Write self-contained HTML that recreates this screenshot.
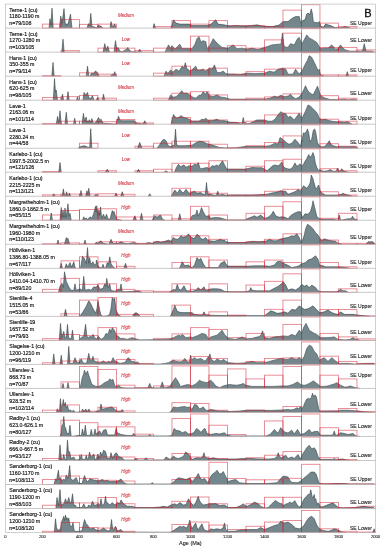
<!DOCTYPE html><html><head><meta charset="utf-8"><title>Detrital zircon age spectra</title><style>html,body{margin:0;padding:0;background:#fff;}svg{display:block;}.l{font-family:"Liberation Sans",sans-serif;font-size:6.05px;fill:#151515;stroke:#151515;stroke-width:0.18px;}.r{font-family:"Liberation Sans",sans-serif;font-size:4.5px;fill:#d3303a;stroke:#d3303a;stroke-width:0.08px;font-style:italic;}.s{font-family:"Liberation Sans",sans-serif;font-size:5.8px;fill:#1a1a1a;stroke:#1a1a1a;stroke-width:0.12px;}.t{font-family:"Liberation Sans",sans-serif;font-size:4.1px;fill:#222;stroke:#222;stroke-width:0.08px;}</style></head><body><svg width="384" height="550" viewBox="0 0 384 550"><rect width="384" height="550" fill="#fff"/><g><path d="M49 28.12L49 28.12L50 18.62L51 25.12L52 8.12L53.2 28.12L59.5 28.12L60.75 16.12L62 23.12L64 8.62L65.3 24.12L68 24.12L70.5 14.12L72 28.12L87 28.12L88.4 23.62L89.6 26.12L90.8 13.42L92 26.62L95 27.12L96.5 28.12L98 25.62L101 26.12L103 28.12L110 28.12L111 21.62L112.5 27.12L114.75 24.12L116 28.12L153 28.12L154 23.62L155.5 28.12L171 28.12L173.5 19.87L176 23.12L180 24.12L190 24.12L192 25.62L199 25.62L207 25.62L211 24.12L215.75 19.87L218 24.12L224 24.87L230 26.12L236 25.62L246 26.12L257 24.87L262 26.12L272 26.62L279 25.12L283 21.62L288 21.62L291.75 18.62L295.5 16.62L299.25 16.62L300.8 23.12L302.5 20.62L305 19.82L306.7 13.92L308.3 13.12L309.7 14.82L311.3 8.92L312.5 14.12L313.3 21.92L316 22.62L318 22.82L319.2 21.52L321 26.42L323.5 27.12L325.5 24.12L330.5 25.62L335 27.62L340 27.82L345.5 26.62L350 28.12L350 28.12Z" fill="#74878d"/><path d="M49 28.12L50 18.62L51 25.12L52 8.12L53.2 28.12M59.5 28.12L60.75 16.12L62 23.12L64 8.62L65.3 24.12L68 24.12L70.5 14.12L72 28.12M87 28.12L88.4 23.62L89.6 26.12L90.8 13.42L92 26.62L95 27.12L96.5 28.12L98 25.62L101 26.12L103 28.12M110 28.12L111 21.62L112.5 27.12L114.75 24.12L116 28.12M153 28.12L154 23.62L155.5 28.12M171 28.12L173.5 19.87L176 23.12L180 24.12L190 24.12L192 25.62L199 25.62L207 25.62L211 24.12L215.75 19.87L218 24.12L224 24.87L230 26.12L236 25.62L246 26.12L257 24.87L262 26.12L272 26.62L279 25.12L283 21.62L288 21.62L291.75 18.62L295.5 16.62L299.25 16.62L300.8 23.12L302.5 20.62L305 19.82L306.7 13.92L308.3 13.12L309.7 14.82L311.3 8.92L312.5 14.12L313.3 21.92L316 22.62L318 22.82L319.2 21.52L321 26.42L323.5 27.12L325.5 24.12L330.5 25.62L335 27.62L340 27.82L345.5 26.62L350 28.12" fill="none" stroke="#2e383c" stroke-width="0.55" stroke-linejoin="round"/><path d="M61.8 52.14L61.8 52.14L63 39.14L64.2 52.14L103 52.14L104.75 43.64L106.3 50.14L107.75 46.14L109.5 52.14L114 52.14L115.5 40.64L116.8 49.14L118 47.39L120 51.14L122 51.64L124 50.64L125.5 49.64L126.8 49.14L127.8 47.44L128.8 49.64L130 50.14L131 51.64L138 52.14L139.75 49.14L141.5 52.14L165 52.14L168.5 44.89L170.3 48.14L172 45.64L175 49.14L179.75 44.14L182 48.64L185 48.64L190 48.64L192 48.64L195 44.14L197 38.64L199 36.64L201 42.14L203 40.64L205.75 41.64L207 48.64L210 45.14L213.25 38.64L216 42.14L222 47.39L228 48.14L233.25 44.89L237 48.64L242 48.14L247 49.14L252 48.14L258 49.64L262 48.14L267 46.64L272 44.89L278.25 44.14L281 44.14L282.5 33.14L284 46.14L286 47.14L288 47.39L290.5 43.64L294.25 44.89L297.5 38.64L299.25 37.39L301.75 44.14L304 40.14L306.75 34.89L308.5 37.14L310.5 38.64L313 39.89L316.75 42.39L320.5 48.64L324.25 48.14L328 48.14L331.75 44.89L335.5 49.14L338 48.64L340.5 44.89L343 48.14L345.5 49.89L350 51.14L356 51.14L362.5 51.14L364.25 43.64L366 51.14L372 51.14L374 52.14L374 52.14Z" fill="#74878d"/><path d="M61.8 52.14L63 39.14L64.2 52.14M103 52.14L104.75 43.64L106.3 50.14L107.75 46.14L109.5 52.14M114 52.14L115.5 40.64L116.8 49.14L118 47.39L120 51.14L122 51.64L124 50.64L125.5 49.64L126.8 49.14L127.8 47.44L128.8 49.64L130 50.14L131 51.64L138 52.14L139.75 49.14L141.5 52.14M165 52.14L168.5 44.89L170.3 48.14L172 45.64L175 49.14L179.75 44.14L182 48.64L185 48.64L190 48.64L192 48.64L195 44.14L197 38.64L199 36.64L201 42.14L203 40.64L205.75 41.64L207 48.64L210 45.14L213.25 38.64L216 42.14L222 47.39L228 48.14L233.25 44.89L237 48.64L242 48.14L247 49.14L252 48.14L258 49.64L262 48.14L267 46.64L272 44.89L278.25 44.14L281 44.14L282.5 33.14L284 46.14L286 47.14L288 47.39L290.5 43.64L294.25 44.89L297.5 38.64L299.25 37.39L301.75 44.14L304 40.14L306.75 34.89L308.5 37.14L310.5 38.64L313 39.89L316.75 42.39L320.5 48.64L324.25 48.14L328 48.14L331.75 44.89L335.5 49.14L338 48.64L340.5 44.89L343 48.14L345.5 49.89L350 51.14L356 51.14L362.5 51.14L364.25 43.64L366 51.14L372 51.14L374 52.14" fill="none" stroke="#2e383c" stroke-width="0.55" stroke-linejoin="round"/><path d="M51.8 76.16L51.8 76.16L53 62.41L54.2 76.16L86.2 76.16L87.5 66.16L88.8 76.16L90 76.16L91.5 73.16L93.5 73.66L95.5 70.86L97 72.41L98.3 75.16L99.5 76.16L110.5 76.16L112.25 74.16L113.5 75.16L114.75 71.66L116.3 76.16L164 76.16L166 71.16L168 73.66L170.5 69.91L173 72.16L176 69.16L179 71.16L182.25 66.16L184 68.16L185.25 62.66L187 69.16L188 69.16L190 71.16L192 70.16L193.5 68.16L195.75 66.16L197.5 70.16L200 70.16L203.25 69.16L205.5 71.16L209.5 68.16L212 69.16L214.5 64.91L217 72.41L220 72.66L223.25 71.16L226 73.66L229.5 74.16L234.5 74.16L240 74.66L247 73.16L255 73.66L264.5 73.16L269.5 71.16L274 72.16L278.25 69.16L282.5 68.16L285.75 69.16L288 74.16L293 74.16L295.5 69.16L297.5 72.16L299.25 73.66L302 71.16L305.5 63.66L307.5 60.16L309.25 55.66L311.75 57.41L313 59.91L315.5 64.91L318 70.66L319.25 69.16L320.5 74.91L324 76.16L346 76.16L347.25 71.66L348.5 76.16L348.5 76.16Z" fill="#74878d"/><path d="M51.8 76.16L53 62.41L54.2 76.16M86.2 76.16L87.5 66.16L88.8 76.16M90 76.16L91.5 73.16L93.5 73.66L95.5 70.86L97 72.41L98.3 75.16L99.5 76.16M110.5 76.16L112.25 74.16L113.5 75.16L114.75 71.66L116.3 76.16M164 76.16L166 71.16L168 73.66L170.5 69.91L173 72.16L176 69.16L179 71.16L182.25 66.16L184 68.16L185.25 62.66L187 69.16L188 69.16L190 71.16L192 70.16L193.5 68.16L195.75 66.16L197.5 70.16L200 70.16L203.25 69.16L205.5 71.16L209.5 68.16L212 69.16L214.5 64.91L217 72.41L220 72.66L223.25 71.16L226 73.66L229.5 74.16L234.5 74.16L240 74.66L247 73.16L255 73.66L264.5 73.16L269.5 71.16L274 72.16L278.25 69.16L282.5 68.16L285.75 69.16L288 74.16L293 74.16L295.5 69.16L297.5 72.16L299.25 73.66L302 71.16L305.5 63.66L307.5 60.16L309.25 55.66L311.75 57.41L313 59.91L315.5 64.91L318 70.66L319.25 69.16L320.5 74.91L324 76.16M346 76.16L347.25 71.66L348.5 76.16" fill="none" stroke="#2e383c" stroke-width="0.55" stroke-linejoin="round"/><path d="M53.3 100.18L53.3 100.18L54.5 78.68L55.5 92.18L56.25 90.18L57.5 100.18L61.3 100.18L62.5 94.18L63.7 100.18L66.8 100.18L68 91.68L69.2 100.18L76.5 100.18L77.5 96.68L78.5 100.18L83 100.18L84 92.43L85.7 95.18L87.5 92.43L89 98.18L91 98.18L92.5 95.68L94 100.18L96 100.18L97.5 97.43L99 100.18L102.3 100.18L103.5 94.18L104.7 100.18L168.5 100.18L170.5 94.93L173 97.18L176 96.68L179 94.18L181.75 90.68L183.5 93.18L184.5 93.18L187 93.18L190 95.18L193.25 97.43L196 98.18L199 95.18L201 95.18L203.25 91.68L205.5 94.18L207 91.68L209.5 95.68L213 96.68L217 94.93L221 97.18L224.5 97.43L230 99.18L242 99.18L264 99.18L270 98.18L274.5 96.18L277.5 97.18L280.75 95.18L284 96.68L287 96.18L288 96.18L290.5 94.18L293 97.18L295.5 98.68L299 97.18L301.75 93.68L303.5 90.18L305.5 85.68L307.5 90.18L309.25 92.43L313 94.93L315.5 90.18L317.5 86.18L319.5 92.18L320.5 94.93L323 97.18L325.5 98.18L330 99.48L340 99.68L344.25 99.18L348 99.88L354.25 99.18L357 100.18L357 100.18Z" fill="#74878d"/><path d="M53.3 100.18L54.5 78.68L55.5 92.18L56.25 90.18L57.5 100.18M61.3 100.18L62.5 94.18L63.7 100.18M66.8 100.18L68 91.68L69.2 100.18M76.5 100.18L77.5 96.68L78.5 100.18M83 100.18L84 92.43L85.7 95.18L87.5 92.43L89 98.18L91 98.18L92.5 95.68L94 100.18M96 100.18L97.5 97.43L99 100.18M102.3 100.18L103.5 94.18L104.7 100.18M168.5 100.18L170.5 94.93L173 97.18L176 96.68L179 94.18L181.75 90.68L183.5 93.18L184.5 93.18L187 93.18L190 95.18L193.25 97.43L196 98.18L199 95.18L201 95.18L203.25 91.68L205.5 94.18L207 91.68L209.5 95.68L213 96.68L217 94.93L221 97.18L224.5 97.43L230 99.18L242 99.18L264 99.18L270 98.18L274.5 96.18L277.5 97.18L280.75 95.18L284 96.68L287 96.18L288 96.18L290.5 94.18L293 97.18L295.5 98.68L299 97.18L301.75 93.68L303.5 90.18L305.5 85.68L307.5 90.18L309.25 92.43L313 94.93L315.5 90.18L317.5 86.18L319.5 92.18L320.5 94.93L323 97.18L325.5 98.18L330 99.48L340 99.68L344.25 99.18L348 99.88L354.25 99.18L357 100.18" fill="none" stroke="#2e383c" stroke-width="0.55" stroke-linejoin="round"/><path d="M56.3 124.2L56.3 124.2L57.5 116.5L58.7 122.2L60 110.8L61.3 124.2L65 124.2L66.25 112.3L67.5 124.2L73.5 124.2L74.7 118.2L75.9 124.2L82 124.2L83.4 113.4L84.7 121.2L86.1 117L87.2 122.2L87.7 121.2L88.5 122.2L89.2 119.7L90.5 122.2L91.9 118.6L93.2 123.2L95 123.2L96.5 121.2L98.5 117.45L100 120.2L101 119.2L103 123.2L116 124.2L118.5 116.2L120 120.2L121 120.7L126 120.7L134 120.7L137 123.2L143 124.2L144.75 120.7L146.5 124.2L171 124.2L173.5 114.45L175.5 117.2L177 118.2L179 117.2L181 115.7L184 117.7L187 118.2L190 119.7L192 121.2L196 121.2L199 121.2L202 119.2L204 119.7L205.75 118.2L208 120.2L210.75 120.7L214 120.2L217 119.2L220 120.7L224.5 120.7L230 122.2L237 122.45L241.8 124.2L243.25 117.45L244.7 124.2L250 123.2L257 119.95L264.5 119.95L268 121.2L272 121.2L275 119.2L277 116.2L280.75 111.7L283 113.2L285.75 113.7L288 117.45L290.5 116.2L292.5 118.2L294.25 119.95L297 116.2L299.25 113.2L300.5 116.2L301.75 118.7L303.5 115.2L305.5 111.2L308 104.95L310.5 106.2L313 108.7L315.5 111.2L317.5 113.7L319.25 118.2L322 119.7L325.5 119.2L328 120.2L331.75 121.2L336 121.7L340.5 121.7L344 122.2L348 121.7L352 124.2L352 124.2Z" fill="#74878d"/><path d="M56.3 124.2L57.5 116.5L58.7 122.2L60 110.8L61.3 124.2M65 124.2L66.25 112.3L67.5 124.2M73.5 124.2L74.7 118.2L75.9 124.2M82 124.2L83.4 113.4L84.7 121.2L86.1 117L87.2 122.2L87.7 121.2L88.5 122.2L89.2 119.7L90.5 122.2L91.9 118.6L93.2 123.2L95 123.2L96.5 121.2L98.5 117.45L100 120.2L101 119.2L103 123.2L116 124.2L118.5 116.2L120 120.2L121 120.7L126 120.7L134 120.7L137 123.2L143 124.2L144.75 120.7L146.5 124.2M171 124.2L173.5 114.45L175.5 117.2L177 118.2L179 117.2L181 115.7L184 117.7L187 118.2L190 119.7L192 121.2L196 121.2L199 121.2L202 119.2L204 119.7L205.75 118.2L208 120.2L210.75 120.7L214 120.2L217 119.2L220 120.7L224.5 120.7L230 122.2L237 122.45L241.8 124.2L243.25 117.45L244.7 124.2L250 123.2L257 119.95L264.5 119.95L268 121.2L272 121.2L275 119.2L277 116.2L280.75 111.7L283 113.2L285.75 113.7L288 117.45L290.5 116.2L292.5 118.2L294.25 119.95L297 116.2L299.25 113.2L300.5 116.2L301.75 118.7L303.5 115.2L305.5 111.2L308 104.95L310.5 106.2L313 108.7L315.5 111.2L317.5 113.7L319.25 118.2L322 119.7L325.5 119.2L328 120.2L331.75 121.2L336 121.7L340.5 121.7L344 122.2L348 121.7L352 124.2" fill="none" stroke="#2e383c" stroke-width="0.55" stroke-linejoin="round"/><path d="M78 148.22L78 148.22L80 146.72L82 146.22L84 145.72L86 146.22L88 147.42L89.7 147.22L90.75 128.72L91.8 148.22L137.5 148.22L139.75 142.47L142 148.22L157 148.22L160 144.22L162 140.72L164 139.22L166 140.72L168 145.22L170 146.72L171 146.22L174.3 145.22L175.5 129.22L176.7 145.22L179 145.72L185 145.72L192 145.22L196 142.72L199.5 141.22L203 141.72L207 143.72L211 144.72L214.5 145.72L219.5 147.47L225 147.92L235 147.92L244.5 146.47L255 146.47L264.5 146.47L269.5 145.72L272 144.72L274.5 143.22L276.5 143.72L278.25 143.72L280 137.47L282.5 139.22L285 141.22L287 143.22L289 144.22L291.75 143.22L295 139.22L298 142.47L300.5 146.22L301.7 140.22L301.75 142.47L303.3 132.92L304.7 133.22L306.3 131.72L307.5 128.92L308.7 132.72L310 141.72L311.7 139.22L313.3 130.22L314.7 128.92L315.8 132.72L317.5 142.72L319.2 145.72L321 146.72L324.25 146.72L327 144.22L329.25 140.72L331 144.22L333 145.72L337 146.72L355.5 146.72L358 148.22L358 148.22Z" fill="#74878d"/><path d="M78 148.22L80 146.72L82 146.22L84 145.72L86 146.22L88 147.42L89.7 147.22L90.75 128.72L91.8 148.22M137.5 148.22L139.75 142.47L142 148.22M157 148.22L160 144.22L162 140.72L164 139.22L166 140.72L168 145.22L170 146.72L171 146.22L174.3 145.22L175.5 129.22L176.7 145.22L179 145.72L185 145.72L192 145.22L196 142.72L199.5 141.22L203 141.72L207 143.72L211 144.72L214.5 145.72L219.5 147.47L225 147.92L235 147.92L244.5 146.47L255 146.47L264.5 146.47L269.5 145.72L272 144.72L274.5 143.22L276.5 143.72L278.25 143.72L280 137.47L282.5 139.22L285 141.22L287 143.22L289 144.22L291.75 143.22L295 139.22L298 142.47L300.5 146.22L301.7 140.22L301.75 142.47L303.3 132.92L304.7 133.22L306.3 131.72L307.5 128.92L308.7 132.72L310 141.72L311.7 139.22L313.3 130.22L314.7 128.92L315.8 132.72L317.5 142.72L319.2 145.72L321 146.72L324.25 146.72L327 144.22L329.25 140.72L331 144.22L333 145.72L337 146.72L355.5 146.72L358 148.22" fill="none" stroke="#2e383c" stroke-width="0.55" stroke-linejoin="round"/><path d="M58.8 172.24L58.8 172.24L60 162.49L61.2 172.24L105.5 172.24L107.25 169.24L109 172.24L136.8 172.24L138.5 169.24L140.2 172.24L164 172.24L166 170.74L168 172.24L174.5 172.24L176.5 167.24L178.5 164.24L180.5 166.74L182.25 165.74L184 164.99L186 167.24L187.25 166.74L189 165.74L191 166.24L192 166.24L194.5 164.24L197 164.99L198.25 162.49L200 168.24L201.5 168.74L203.25 168.24L207 167.49L209.5 168.74L212 165.74L214.5 166.24L216.75 164.99L218.25 166.24L220 164.24L222.5 160.74L224.5 164.99L227 169.24L232 169.24L244.5 169.24L247 168.74L252 167.49L257 167.74L262 167.74L264.5 169.24L267 170.74L270 168.24L272 166.24L274.5 164.99L278.25 165.74L280 164.54L281.7 162.04L283 165.94L285 167.94L287.5 168.74L290 169.24L292.5 167.54L295 162.94L296.7 166.24L298.3 165.44L300 163.74L301.3 166.24L303.3 164.54L305 161.24L306.7 158.74L308.7 154.54L310 157.24L311.7 155.44L313 152.54L314.2 156.24L315.3 162.94L317 167.94L318.7 170.44L320.8 169.94L323.3 171.24L328 170.74L330 169.54L333.3 171.24L336 171.24L337.5 168.24L339.2 171.24L340.5 171.24L341.7 168.74L344 171.24L348 172.24L348 172.24Z" fill="#74878d"/><path d="M58.8 172.24L60 162.49L61.2 172.24M105.5 172.24L107.25 169.24L109 172.24M136.8 172.24L138.5 169.24L140.2 172.24M164 172.24L166 170.74L168 172.24M174.5 172.24L176.5 167.24L178.5 164.24L180.5 166.74L182.25 165.74L184 164.99L186 167.24L187.25 166.74L189 165.74L191 166.24L192 166.24L194.5 164.24L197 164.99L198.25 162.49L200 168.24L201.5 168.74L203.25 168.24L207 167.49L209.5 168.74L212 165.74L214.5 166.24L216.75 164.99L218.25 166.24L220 164.24L222.5 160.74L224.5 164.99L227 169.24L232 169.24L244.5 169.24L247 168.74L252 167.49L257 167.74L262 167.74L264.5 169.24L267 170.74L270 168.24L272 166.24L274.5 164.99L278.25 165.74L280 164.54L281.7 162.04L283 165.94L285 167.94L287.5 168.74L290 169.24L292.5 167.54L295 162.94L296.7 166.24L298.3 165.44L300 163.74L301.3 166.24L303.3 164.54L305 161.24L306.7 158.74L308.7 154.54L310 157.24L311.7 155.44L313 152.54L314.2 156.24L315.3 162.94L317 167.94L318.7 170.44L320.8 169.94L323.3 171.24L328 170.74L330 169.54L333.3 171.24L336 171.24L337.5 168.24L339.2 171.24L340.5 171.24L341.7 168.74L344 171.24L348 172.24" fill="none" stroke="#2e383c" stroke-width="0.55" stroke-linejoin="round"/><path d="M52.5 196.26L52.5 196.26L53.75 193.66L55 196.26L62.2 196.26L63.4 188.96L64.6 196.26L65.4 196.26L66.6 191.76L67.8 196.26L68.2 196.26L69.4 192.96L70.6 196.26L79.8 196.26L81 190.46L82.2 196.26L85.7 196.26L86.9 190.76L87.8 194.26L88.75 188.26L90 196.26L94 196.26L96 194.26L98 196.26L114.5 196.26L116 193.26L117.5 196.26L120.8 196.26L122.25 191.76L123.7 196.26L148.3 196.26L149.75 193.76L151.2 196.26L171 196.26L172.5 194.26L174.75 190.01L177.5 193.26L179.75 189.26L182.5 192.76L184 192.26L186 189.26L189 193.26L192 192.26L194.5 191.26L197 193.26L200.75 192.51L203 194.26L205.3 194.26L206.5 182.51L207.7 194.26L210.75 194.26L214 195.26L216.3 195.26L217.75 191.26L219.2 195.26L222 194.26L226 195.26L232 195.01L252 195.01L258 194.76L267 194.26L271 193.26L274.5 192.51L278 191.76L280.75 190.76L283 191.26L285.75 191.26L288 194.26L293 192.51L296 191.26L298 189.26L300.5 191.26L303.5 185.76L306.75 188.26L309.25 185.01L310.3 182.26L311.25 175.01L313 178.76L315.5 188.26L317 188.26L318.5 185.01L320.5 191.26L323 193.76L325.5 195.01L338 195.01L341.5 194.26L343 193.26L345 194.26L348 195.01L352 196.26L352 196.26Z" fill="#74878d"/><path d="M52.5 196.26L53.75 193.66L55 196.26M62.2 196.26L63.4 188.96L64.6 196.26M65.4 196.26L66.6 191.76L67.8 196.26M68.2 196.26L69.4 192.96L70.6 196.26M79.8 196.26L81 190.46L82.2 196.26M85.7 196.26L86.9 190.76L87.8 194.26L88.75 188.26L90 196.26M94 196.26L96 194.26L98 196.26M114.5 196.26L116 193.26L117.5 196.26M120.8 196.26L122.25 191.76L123.7 196.26M148.3 196.26L149.75 193.76L151.2 196.26M171 196.26L172.5 194.26L174.75 190.01L177.5 193.26L179.75 189.26L182.5 192.76L184 192.26L186 189.26L189 193.26L192 192.26L194.5 191.26L197 193.26L200.75 192.51L203 194.26L205.3 194.26L206.5 182.51L207.7 194.26L210.75 194.26L214 195.26L216.3 195.26L217.75 191.26L219.2 195.26L222 194.26L226 195.26L232 195.01L252 195.01L258 194.76L267 194.26L271 193.26L274.5 192.51L278 191.76L280.75 190.76L283 191.26L285.75 191.26L288 194.26L293 192.51L296 191.26L298 189.26L300.5 191.26L303.5 185.76L306.75 188.26L309.25 185.01L310.3 182.26L311.25 175.01L313 178.76L315.5 188.26L317 188.26L318.5 185.01L320.5 191.26L323 193.76L325.5 195.01L338 195.01L341.5 194.26L343 193.26L345 194.26L348 195.01L352 196.26" fill="none" stroke="#2e383c" stroke-width="0.55" stroke-linejoin="round"/><path d="M50 220.28L50 220.28L51.25 212.98L52.5 220.28L60 220.28L61.25 207.48L62.2 217.28L63 210.28L64 217.28L65 207.98L66.2 217.28L68 203.78L69 216.28L70 213.28L71.2 220.28L82.5 220.28L83.75 216.78L85 219.28L86.25 217.78L87.5 219.78L90 216.78L92 218.28L93.75 213.28L95.5 206.28L96.2 212.28L96.75 205.78L97.8 215.28L99 210.28L99.8 215.28L100.5 206.98L101.7 218.28L103.5 214.28L105 218.28L106.5 214.28L108 218.78L110 219.28L112.25 210.48L113 213.28L114 211.28L115.5 216.28L117 219.28L119 219.78L122 220.28L133 220.28L134.75 215.78L136.5 220.28L140 220.28L141.5 213.28L143 220.28L152 220.28L154.75 215.78L157 217.28L160.5 215.03L162.5 219.28L165 220.28L178.3 220.28L179.75 213.78L181.2 220.28L190 220.28L192 215.78L194.5 215.03L196 214.28L197 210.03L198.25 215.78L200 212.53L201.5 207.53L203.25 211.78L205.75 216.28L209 215.78L210.75 218.28L214.5 217.53L220 217.78L227 220.03L245 220.03L248 218.28L251 217.28L254.5 215.78L257 217.28L260.75 215.03L264.5 218.28L267 217.78L269.5 216.28L271.5 214.28L273.25 211.28L275.75 215.78L279 217.28L282 216.78L285 217.28L288 218.78L290.5 215.78L294.25 213.28L298 211.78L300.5 211.78L302.5 217.53L305 213.78L308 214.28L310.5 211.28L312 206.28L313 200.78L315 208.78L316.75 216.28L319.25 218.78L323 219.28L333 219.28L337.8 220.28L339.25 215.03L340.7 220.28L348 218.78L351 218.78L352.5 216.28L354 218.78L356 219.28L358 220.28L358 220.28Z" fill="#74878d"/><path d="M50 220.28L51.25 212.98L52.5 220.28M60 220.28L61.25 207.48L62.2 217.28L63 210.28L64 217.28L65 207.98L66.2 217.28L68 203.78L69 216.28L70 213.28L71.2 220.28M82.5 220.28L83.75 216.78L85 219.28L86.25 217.78L87.5 219.78L90 216.78L92 218.28L93.75 213.28L95.5 206.28L96.2 212.28L96.75 205.78L97.8 215.28L99 210.28L99.8 215.28L100.5 206.98L101.7 218.28L103.5 214.28L105 218.28L106.5 214.28L108 218.78L110 219.28L112.25 210.48L113 213.28L114 211.28L115.5 216.28L117 219.28L119 219.78L122 220.28M133 220.28L134.75 215.78L136.5 220.28M140 220.28L141.5 213.28L143 220.28M152 220.28L154.75 215.78L157 217.28L160.5 215.03L162.5 219.28L165 220.28M178.3 220.28L179.75 213.78L181.2 220.28M190 220.28L192 215.78L194.5 215.03L196 214.28L197 210.03L198.25 215.78L200 212.53L201.5 207.53L203.25 211.78L205.75 216.28L209 215.78L210.75 218.28L214.5 217.53L220 217.78L227 220.03L245 220.03L248 218.28L251 217.28L254.5 215.78L257 217.28L260.75 215.03L264.5 218.28L267 217.78L269.5 216.28L271.5 214.28L273.25 211.28L275.75 215.78L279 217.28L282 216.78L285 217.28L288 218.78L290.5 215.78L294.25 213.28L298 211.78L300.5 211.78L302.5 217.53L305 213.78L308 214.28L310.5 211.28L312 206.28L313 200.78L315 208.78L316.75 216.28L319.25 218.78L323 219.28L333 219.28L337.8 220.28L339.25 215.03L340.7 220.28L348 218.78L351 218.78L352.5 216.28L354 218.78L356 219.28L358 220.28" fill="none" stroke="#2e383c" stroke-width="0.55" stroke-linejoin="round"/><path d="M56.8 244.3L56.8 244.3L58 240.05L59.2 244.3L64.5 244.3L66.25 237.55L67 239.3L68 238.3L69.5 244.3L83.8 244.3L85 240.05L86.2 244.3L95 244.3L96 242.3L98 243.3L101 240.8L103 243.3L109 244.3L111 239.3L113 243.3L118 243.3L121 241.8L124 243.3L128 243.8L133.5 242.55L138 243.8L145 243.8L148.5 242.55L152 243.3L157 241.3L161 242.3L165 241.3L168.5 240.05L171 241.3L173.5 237.55L175 238.8L177.25 239.3L179 238.3L181 235.8L183 237.3L184.75 236.8L186.5 236.3L188.5 233.8L190 236.3L192 237.8L194.5 238.3L197 234.3L199.5 236.3L201 238.8L203.25 239.3L205.75 237.55L207.5 239.8L209.5 240.8L214.5 241.3L217.5 240.3L220.75 239.3L222.5 240.3L224.5 240.05L226 241.8L229.5 242.55L236 242.55L244.5 242.55L249 241.8L253.25 241.3L258.25 241.8L264.5 241.3L267 240.8L269.5 239.3L273 240.8L277 240.8L280 239.3L283.25 238.3L288 237.55L291.75 235.8L294 236.3L296.75 233.8L299.25 237.55L301 242.55L303 238.8L304.5 234.3L305.5 229.3L307.5 224.3L309 225.3L310.5 226.3L313 228.8L315.5 232.55L318 235.05L320.5 239.3L322 240.3L324.25 238.8L328 240.05L331 240.8L335.5 241.3L338 243.3L342 244.3L366 244.3L368 241.8L373 241.8L374.5 244.3L374.5 244.3Z" fill="#74878d"/><path d="M56.8 244.3L58 240.05L59.2 244.3M64.5 244.3L66.25 237.55L67 239.3L68 238.3L69.5 244.3M83.8 244.3L85 240.05L86.2 244.3M95 244.3L96 242.3L98 243.3L101 240.8L103 243.3L109 244.3L111 239.3L113 243.3L118 243.3L121 241.8L124 243.3L128 243.8L133.5 242.55L138 243.8L145 243.8L148.5 242.55L152 243.3L157 241.3L161 242.3L165 241.3L168.5 240.05L171 241.3L173.5 237.55L175 238.8L177.25 239.3L179 238.3L181 235.8L183 237.3L184.75 236.8L186.5 236.3L188.5 233.8L190 236.3L192 237.8L194.5 238.3L197 234.3L199.5 236.3L201 238.8L203.25 239.3L205.75 237.55L207.5 239.8L209.5 240.8L214.5 241.3L217.5 240.3L220.75 239.3L222.5 240.3L224.5 240.05L226 241.8L229.5 242.55L236 242.55L244.5 242.55L249 241.8L253.25 241.3L258.25 241.8L264.5 241.3L267 240.8L269.5 239.3L273 240.8L277 240.8L280 239.3L283.25 238.3L288 237.55L291.75 235.8L294 236.3L296.75 233.8L299.25 237.55L301 242.55L303 238.8L304.5 234.3L305.5 229.3L307.5 224.3L309 225.3L310.5 226.3L313 228.8L315.5 232.55L318 235.05L320.5 239.3L322 240.3L324.25 238.8L328 240.05L331 240.8L335.5 241.3L338 243.3L342 244.3M366 244.3L368 241.8L373 241.8L374.5 244.3" fill="none" stroke="#2e383c" stroke-width="0.55" stroke-linejoin="round"/><path d="M59.8 268.32L59.8 268.32L61.25 263.32L62.5 268.32L64.8 268.32L66.25 263.82L67.7 267.32L70 262.57L71.5 267.32L73.75 261.82L75.3 268.32L80.5 268.32L82.5 256.32L84.5 258.82L86.3 263.32L87.5 247.57L88.7 263.32L89.5 257.57L91 264.32L93 261.82L94.5 265.32L96 263.82L96.5 260.07L98 266.32L101.5 268.32L103 264.32L104.5 268.32L105.5 268.32L107.25 262.57L108.5 264.32L109.75 256.82L111 263.82L112.75 266.32L115 268.32L124 268.32L125.5 263.32L127 268.32L179.5 268.32L182.25 261.82L184.75 265.82L188.5 265.07L191 267.32L192 267.57L194.5 265.07L197 257.57L199 260.07L200.75 258.32L203.25 263.82L205.75 267.57L218.25 267.57L220.75 263.32L224.5 261.32L227 265.82L229.5 266.32L244.5 266.32L255 265.82L264.5 265.82L270 266.32L274.5 265.07L277 261.82L280.75 261.32L284.5 263.82L288 265.32L291.75 267.57L298 266.32L301.75 263.82L305.5 262.57L308 260.07L311.75 258.82L315.5 255.82L318 259.32L319.25 265.07L323 265.82L325.5 266.82L338 266.82L345.5 267.57L350 268.32L350 268.32Z" fill="#74878d"/><path d="M59.8 268.32L61.25 263.32L62.5 268.32M64.8 268.32L66.25 263.82L67.7 267.32L70 262.57L71.5 267.32L73.75 261.82L75.3 268.32M80.5 268.32L82.5 256.32L84.5 258.82L86.3 263.32L87.5 247.57L88.7 263.32L89.5 257.57L91 264.32L93 261.82L94.5 265.32L96 263.82L96.5 260.07L98 266.32L101.5 268.32L103 264.32L104.5 268.32M105.5 268.32L107.25 262.57L108.5 264.32L109.75 256.82L111 263.82L112.75 266.32L115 268.32M124 268.32L125.5 263.32L127 268.32M179.5 268.32L182.25 261.82L184.75 265.82L188.5 265.07L191 267.32L192 267.57L194.5 265.07L197 257.57L199 260.07L200.75 258.32L203.25 263.82L205.75 267.57L218.25 267.57L220.75 263.32L224.5 261.32L227 265.82L229.5 266.32L244.5 266.32L255 265.82L264.5 265.82L270 266.32L274.5 265.07L277 261.82L280.75 261.32L284.5 263.82L288 265.32L291.75 267.57L298 266.32L301.75 263.82L305.5 262.57L308 260.07L311.75 258.82L315.5 255.82L318 259.32L319.25 265.07L323 265.82L325.5 266.82L338 266.82L345.5 267.57L350 268.32" fill="none" stroke="#2e383c" stroke-width="0.55" stroke-linejoin="round"/><path d="M58.5 292.34L58.5 292.34L60 286.34L62 283.34L63.3 287.34L64.5 271.84L66.25 281.34L68.75 286.84L71 290.34L73.8 290.34L75 283.84L76.2 290.34L80 288.84L82.3 290.34L83.75 276.34L85.2 290.34L88.75 289.34L91 290.34L93.75 286.84L96 287.34L98 285.09L100 289.34L103 288.34L104.75 283.84L105.8 286.34L106.75 278.34L108.25 287.59L109.75 283.84L111 290.34L115 291.34L118.5 289.34L119.8 290.34L121 283.84L122.2 291.34L125 291.84L138.5 290.84L142 292.34L169 292.34L171 291.34L173.5 289.34L175.5 290.34L177.25 284.34L179 289.34L181 290.09L184 285.84L186.5 290.84L190 290.84L192 291.34L196 290.34L198.25 287.59L200.75 290.09L204 286.84L205.75 290.84L209.5 289.34L212 288.84L217 288.84L220.75 289.34L224.5 291.34L230 291.84L245 291.84L249.5 290.84L250.75 287.59L252 290.34L257 290.84L264.5 290.84L269.5 290.84L273.25 288.84L278.25 286.34L281.5 283.84L283.25 281.84L285.75 285.09L288 290.09L291.75 288.84L295.5 290.09L299.25 287.59L301.75 284.34L304.25 286.34L306.75 285.09L309.25 287.59L311.75 285.09L315.5 287.59L318 290.84L322 291.84L336 291.84L338 291.34L340.5 289.34L343 290.84L345.5 290.84L348 292.34L348 292.34Z" fill="#74878d"/><path d="M58.5 292.34L60 286.34L62 283.34L63.3 287.34L64.5 271.84L66.25 281.34L68.75 286.84L71 290.34L73.8 290.34L75 283.84L76.2 290.34L80 288.84L82.3 290.34L83.75 276.34L85.2 290.34L88.75 289.34L91 290.34L93.75 286.84L96 287.34L98 285.09L100 289.34L103 288.34L104.75 283.84L105.8 286.34L106.75 278.34L108.25 287.59L109.75 283.84L111 290.34L115 291.34L118.5 289.34L119.8 290.34L121 283.84L122.2 291.34L125 291.84L138.5 290.84L142 292.34M169 292.34L171 291.34L173.5 289.34L175.5 290.34L177.25 284.34L179 289.34L181 290.09L184 285.84L186.5 290.84L190 290.84L192 291.34L196 290.34L198.25 287.59L200.75 290.09L204 286.84L205.75 290.84L209.5 289.34L212 288.84L217 288.84L220.75 289.34L224.5 291.34L230 291.84L245 291.84L249.5 290.84L250.75 287.59L252 290.34L257 290.84L264.5 290.84L269.5 290.84L273.25 288.84L278.25 286.34L281.5 283.84L283.25 281.84L285.75 285.09L288 290.09L291.75 288.84L295.5 290.09L299.25 287.59L301.75 284.34L304.25 286.34L306.75 285.09L309.25 287.59L311.75 285.09L315.5 287.59L318 290.84L322 291.84L336 291.84L338 291.34L340.5 289.34L343 290.84L345.5 290.84L348 292.34" fill="none" stroke="#2e383c" stroke-width="0.55" stroke-linejoin="round"/><path d="M64 316.36L64 316.36L65.5 309.36L67 316.36L79 316.36L80 315.86L82.5 312.61L84.5 309.36L86.25 306.36L88.75 300.86L90.5 303.36L92.5 307.61L94.5 311.36L96 312.61L97 308.36L98 301.36L99 306.36L100 311.36L101 315.11L103 316.36L108 315.86L109.75 313.86L111 308.36L112.25 297.61L113.5 299.36L114.75 298.36L116 310.11L118.5 315.11L121 316.36L132.5 316.36L134 313.86L136 312.61L138 313.86L140 316.36L170 316.36L171 315.11L173.5 309.36L174.75 305.11L176 308.36L177.25 311.36L181 312.61L186 312.61L192 312.61L194 314.36L199.5 315.11L202.5 315.11L204 311.86L205.5 315.11L207 315.11L215 315.36L227 315.61L264.5 315.61L267 313.86L270.75 310.86L274 311.86L277 313.36L281 312.86L284.5 311.86L288 313.36L291.75 309.36L295.5 310.11L299.25 305.86L301.75 307.61L304.25 309.36L308 308.86L310.5 307.36L313 305.86L316 308.86L319.25 312.61L322 312.36L324.25 311.86L328 310.11L331.75 312.61L335 313.86L338 314.36L340.5 311.86L344.25 314.36L353 314.36L358 315.11L365 315.86L370 316.36L370 316.36Z" fill="#74878d"/><path d="M64 316.36L65.5 309.36L67 316.36M79 316.36L80 315.86L82.5 312.61L84.5 309.36L86.25 306.36L88.75 300.86L90.5 303.36L92.5 307.61L94.5 311.36L96 312.61L97 308.36L98 301.36L99 306.36L100 311.36L101 315.11L103 316.36L108 315.86L109.75 313.86L111 308.36L112.25 297.61L113.5 299.36L114.75 298.36L116 310.11L118.5 315.11L121 316.36M132.5 316.36L134 313.86L136 312.61L138 313.86L140 316.36M170 316.36L171 315.11L173.5 309.36L174.75 305.11L176 308.36L177.25 311.36L181 312.61L186 312.61L192 312.61L194 314.36L199.5 315.11L202.5 315.11L204 311.86L205.5 315.11L207 315.11L215 315.36L227 315.61L264.5 315.61L267 313.86L270.75 310.86L274 311.86L277 313.36L281 312.86L284.5 311.86L288 313.36L291.75 309.36L295.5 310.11L299.25 305.86L301.75 307.61L304.25 309.36L308 308.86L310.5 307.36L313 305.86L316 308.86L319.25 312.61L322 312.36L324.25 311.86L328 310.11L331.75 312.61L335 313.86L338 314.36L340.5 311.86L344.25 314.36L353 314.36L358 315.11L365 315.86L370 316.36" fill="none" stroke="#2e383c" stroke-width="0.55" stroke-linejoin="round"/><path d="M59.2 340.38L59.2 340.38L60.5 323.38L61.8 337.38L63.75 331.38L65 337.38L66.3 337.38L67.5 324.38L68.7 338.38L71.3 338.38L72.5 330.13L73.7 340.38L79 340.38L81.25 337.38L83.75 336.38L85.6 324.38L86.8 335.38L87.5 337.38L89 337.38L90.3 335.98L91.5 337.38L93 334.38L94.5 337.38L96.5 338.88L98.5 336.38L101 339.38L104 337.38L106 333.38L108 334.38L109.75 328.88L111 332.38L112.25 327.63L114.75 330.88L116 335.13L118.5 336.38L120.5 338.38L123.5 338.38L127 339.38L132.25 337.63L136 338.88L140 339.88L166 339.38L170 338.88L173.5 337.63L178.5 335.13L180.5 335.88L182.25 334.38L186 337.63L191 336.88L192 337.63L197 335.88L202 333.38L205.75 334.38L208 337.88L209 338.88L210.75 336.88L217 335.13L220 332.38L222 330.13L224.5 334.38L228.25 338.38L235.75 339.38L240 337.88L242 336.88L245.75 338.88L252 338.38L259.5 336.38L261.3 334.38L262.5 330.88L264.5 337.63L269.5 338.38L274.5 336.88L279.5 336.38L283.25 335.88L288 336.38L291.75 334.38L295.5 335.88L299.25 330.13L301.75 333.38L303.5 327.63L306 323.38L308 327.38L309.25 330.13L313 332.63L316.75 334.38L320.5 337.63L326.75 337.63L331 337.38L334.25 336.88L338 339.38L345 339.88L350 339.38L353 337.63L356 339.38L360 340.38L360 340.38Z" fill="#74878d"/><path d="M59.2 340.38L60.5 323.38L61.8 337.38L63.75 331.38L65 337.38L66.3 337.38L67.5 324.38L68.7 338.38L71.3 338.38L72.5 330.13L73.7 340.38M79 340.38L81.25 337.38L83.75 336.38L85.6 324.38L86.8 335.38L87.5 337.38L89 337.38L90.3 335.98L91.5 337.38L93 334.38L94.5 337.38L96.5 338.88L98.5 336.38L101 339.38L104 337.38L106 333.38L108 334.38L109.75 328.88L111 332.38L112.25 327.63L114.75 330.88L116 335.13L118.5 336.38L120.5 338.38L123.5 338.38L127 339.38L132.25 337.63L136 338.88L140 339.88L166 339.38L170 338.88L173.5 337.63L178.5 335.13L180.5 335.88L182.25 334.38L186 337.63L191 336.88L192 337.63L197 335.88L202 333.38L205.75 334.38L208 337.88L209 338.88L210.75 336.88L217 335.13L220 332.38L222 330.13L224.5 334.38L228.25 338.38L235.75 339.38L240 337.88L242 336.88L245.75 338.88L252 338.38L259.5 336.38L261.3 334.38L262.5 330.88L264.5 337.63L269.5 338.38L274.5 336.88L279.5 336.38L283.25 335.88L288 336.38L291.75 334.38L295.5 335.88L299.25 330.13L301.75 333.38L303.5 327.63L306 323.38L308 327.38L309.25 330.13L313 332.63L316.75 334.38L320.5 337.63L326.75 337.63L331 337.38L334.25 336.88L338 339.38L345 339.88L350 339.38L353 337.63L356 339.38L360 340.38" fill="none" stroke="#2e383c" stroke-width="0.55" stroke-linejoin="round"/><path d="M52.5 364.4L52.5 364.4L53.75 353.9L55 364.4L60 364.4L61.25 355.15L62.5 364.4L67.5 364.4L68.75 346.4L70 363.4L73 363.4L75 357.65L77 362.9L79 362.4L81.25 358.9L83 362.9L86.5 363.4L87.5 359.4L88.75 353.4L90 359.4L91.5 360.4L93 356.4L94.5 361.4L96 361.4L99 362.9L101 362.4L103.5 360.9L106 362.9L108.5 361.4L111 362.4L113 357.65L114.5 360.4L116 361.4L120 363.4L125 362.4L128 357.65L129.75 358.9L131.5 361.4L133.5 361.4L135.5 362.4L137.25 361.9L140 363.9L160 364.1L165 363.4L168.5 362.65L173.5 360.15L176 361.4L179.75 361.9L182.5 361.4L184.75 358.4L187 361.4L189.5 362.4L190.5 355.15L191.3 358.4L192 359.4L194.5 357.65L197 359.4L200.75 358.4L204.5 360.9L206 360.4L207.5 357.65L209 356.4L210 353.9L211 358.4L212 360.15L214.5 361.4L217 358.9L220.75 360.9L224 359.4L226 361.4L228.25 362.65L237 363.4L245 362.9L252 361.4L257 362.65L264.5 362.65L269.5 361.4L273 360.4L277 359.4L280.75 358.4L285.75 359.4L288 359.4L291.75 357.65L294 358.9L296.75 359.4L299.25 357.65L301.75 360.15L304.25 356.4L306.75 348.4L309.25 345.15L311.75 346.4L314.25 351.4L316.75 353.9L319.25 360.15L321.75 358.9L324.25 357.65L326 359.4L328 361.4L331.75 357.65L335.5 360.9L339.25 363.4L348 363.4L355 364.1L368 363.4L374 363.4L374 364.4Z" fill="#74878d"/><path d="M52.5 364.4L53.75 353.9L55 364.4M60 364.4L61.25 355.15L62.5 364.4M67.5 364.4L68.75 346.4L70 363.4L73 363.4L75 357.65L77 362.9L79 362.4L81.25 358.9L83 362.9L86.5 363.4L87.5 359.4L88.75 353.4L90 359.4L91.5 360.4L93 356.4L94.5 361.4L96 361.4L99 362.9L101 362.4L103.5 360.9L106 362.9L108.5 361.4L111 362.4L113 357.65L114.5 360.4L116 361.4L120 363.4L125 362.4L128 357.65L129.75 358.9L131.5 361.4L133.5 361.4L135.5 362.4L137.25 361.9L140 363.9L160 364.1L165 363.4L168.5 362.65L173.5 360.15L176 361.4L179.75 361.9L182.5 361.4L184.75 358.4L187 361.4L189.5 362.4L190.5 355.15L191.3 358.4L192 359.4L194.5 357.65L197 359.4L200.75 358.4L204.5 360.9L206 360.4L207.5 357.65L209 356.4L210 353.9L211 358.4L212 360.15L214.5 361.4L217 358.9L220.75 360.9L224 359.4L226 361.4L228.25 362.65L237 363.4L245 362.9L252 361.4L257 362.65L264.5 362.65L269.5 361.4L273 360.4L277 359.4L280.75 358.4L285.75 359.4L288 359.4L291.75 357.65L294 358.9L296.75 359.4L299.25 357.65L301.75 360.15L304.25 356.4L306.75 348.4L309.25 345.15L311.75 346.4L314.25 351.4L316.75 353.9L319.25 360.15L321.75 358.9L324.25 357.65L326 359.4L328 361.4L331.75 357.65L335.5 360.9L339.25 363.4L348 363.4L355 364.1L368 363.4L374 363.4" fill="none" stroke="#2e383c" stroke-width="0.55" stroke-linejoin="round"/><path d="M61.8 388.42L61.8 388.42L63 383.42L64.2 388.42L66.8 388.42L68 382.67L69.2 388.42L79.5 388.42L80.5 386.42L82.5 376.42L83.5 374.42L84.5 370.17L86 374.42L87.5 370.92L88.5 374.42L90 378.92L91.5 383.42L93 385.17L96 386.42L98.5 386.42L101 385.42L103.5 383.42L106 381.92L108 381.42L109.75 378.92L111.5 380.17L113 379.42L114.75 385.92L116.5 386.92L118.5 385.17L121 387.42L125 387.92L140 388.12L147.8 387.92L149.75 383.42L151.7 387.92L160.3 387.92L162.25 381.92L164.2 387.92L170 386.42L172 382.67L173.5 380.42L175.5 377.67L178 381.42L180 385.42L181 386.42L184.75 385.17L188.5 384.42L192 385.92L195.75 383.92L199.5 380.17L201.5 381.42L203.25 381.92L207 382.67L210.75 380.17L213.25 382.67L215.75 385.92L219.5 387.67L223.25 385.92L229.5 384.42L233 384.92L237 385.17L241 384.42L243.25 383.42L245.75 385.17L252 386.42L264.5 386.42L273 386.42L282 385.92L288 385.92L293 384.42L297.5 381.92L300.5 384.42L303 385.17L305.5 385.17L309.25 383.42L313.5 380.92L316.75 383.42L320.5 386.42L324 386.42L328 385.92L331 384.92L334.25 383.92L336.75 382.67L340.5 385.17L344.25 386.92L347 386.92L350.5 385.92L353 386.92L355.5 387.67L360 388.42L360 388.42Z" fill="#74878d"/><path d="M61.8 388.42L63 383.42L64.2 388.42M66.8 388.42L68 382.67L69.2 388.42M79.5 388.42L80.5 386.42L82.5 376.42L83.5 374.42L84.5 370.17L86 374.42L87.5 370.92L88.5 374.42L90 378.92L91.5 383.42L93 385.17L96 386.42L98.5 386.42L101 385.42L103.5 383.42L106 381.92L108 381.42L109.75 378.92L111.5 380.17L113 379.42L114.75 385.92L116.5 386.92L118.5 385.17L121 387.42L125 387.92L140 388.12L147.8 387.92L149.75 383.42L151.7 387.92L160.3 387.92L162.25 381.92L164.2 387.92L170 386.42L172 382.67L173.5 380.42L175.5 377.67L178 381.42L180 385.42L181 386.42L184.75 385.17L188.5 384.42L192 385.92L195.75 383.92L199.5 380.17L201.5 381.42L203.25 381.92L207 382.67L210.75 380.17L213.25 382.67L215.75 385.92L219.5 387.67L223.25 385.92L229.5 384.42L233 384.92L237 385.17L241 384.42L243.25 383.42L245.75 385.17L252 386.42L264.5 386.42L273 386.42L282 385.92L288 385.92L293 384.42L297.5 381.92L300.5 384.42L303 385.17L305.5 385.17L309.25 383.42L313.5 380.92L316.75 383.42L320.5 386.42L324 386.42L328 385.92L331 384.92L334.25 383.92L336.75 382.67L340.5 385.17L344.25 386.92L347 386.92L350.5 385.92L353 386.92L355.5 387.67L360 388.42" fill="none" stroke="#2e383c" stroke-width="0.55" stroke-linejoin="round"/><path d="M56.5 412.44L56.5 412.44L57.2 408.84L58.5 410.94L59.5 410.44L60.4 398.64L61.3 407.44L62.3 406.44L63.3 399.44L64.3 405.44L65.4 402.44L66.3 407.44L67.6 405.54L68.8 410.94L70.6 409.84L71.8 411.64L73.4 410.14L75 412.14L81.5 412.14L82.6 409.04L83.9 411.44L85.8 409.04L87.3 411.44L89 409.04L90.3 412.14L95 412.14L96 411.44L98 410.94L99.7 410.44L101 403.94L102.3 409.44L103.5 408.94L105.5 408.44L108.5 407.69L111.5 406.94L114 408.44L117 411.44L120.8 411.44L122.25 409.44L123.7 412.44L169 412.44L171 411.44L173.5 406.94L177.25 407.69L181 406.94L184.75 406.44L187 407.44L189.75 406.94L192 409.44L194.5 404.44L197 405.19L199.5 408.94L201.5 407.94L203.25 406.94L205.75 410.19L208 410.44L210.75 409.44L214.5 410.19L218 410.94L224.5 410.94L230 411.44L240 410.94L247 410.19L262 410.19L270 410.44L282 409.94L288 409.44L291 409.94L294 409.44L295.8 408.24L297.5 407.74L298.7 409.14L300.3 406.64L301.7 408.74L303.3 406.64L305 402.44L306.7 399.14L308.3 398.24L310 399.14L311.3 397.44L312.5 393.24L313.7 396.64L315 394.94L316.3 396.64L317.5 402.44L318.7 409.14L320 411.14L323 411.14L338 410.94L340.5 410.19L348 410.19L358 410.94L365 411.94L372 412.44L372 412.44Z" fill="#74878d"/><path d="M56.5 412.44L57.2 408.84L58.5 410.94L59.5 410.44L60.4 398.64L61.3 407.44L62.3 406.44L63.3 399.44L64.3 405.44L65.4 402.44L66.3 407.44L67.6 405.54L68.8 410.94L70.6 409.84L71.8 411.64L73.4 410.14L75 412.14L81.5 412.14L82.6 409.04L83.9 411.44L85.8 409.04L87.3 411.44L89 409.04L90.3 412.14L95 412.14L96 411.44L98 410.94L99.7 410.44L101 403.94L102.3 409.44L103.5 408.94L105.5 408.44L108.5 407.69L111.5 406.94L114 408.44L117 411.44L120.8 411.44L122.25 409.44L123.7 412.44M169 412.44L171 411.44L173.5 406.94L177.25 407.69L181 406.94L184.75 406.44L187 407.44L189.75 406.94L192 409.44L194.5 404.44L197 405.19L199.5 408.94L201.5 407.94L203.25 406.94L205.75 410.19L208 410.44L210.75 409.44L214.5 410.19L218 410.94L224.5 410.94L230 411.44L240 410.94L247 410.19L262 410.19L270 410.44L282 409.94L288 409.44L291 409.94L294 409.44L295.8 408.24L297.5 407.74L298.7 409.14L300.3 406.64L301.7 408.74L303.3 406.64L305 402.44L306.7 399.14L308.3 398.24L310 399.14L311.3 397.44L312.5 393.24L313.7 396.64L315 394.94L316.3 396.64L317.5 402.44L318.7 409.14L320 411.14L323 411.14L338 410.94L340.5 410.19L348 410.19L358 410.94L365 411.94L372 412.44" fill="none" stroke="#2e383c" stroke-width="0.55" stroke-linejoin="round"/><path d="M60 436.46L60 436.46L61 433.46L62 425.21L63 424.46L63.75 416.46L64.7 426.46L65.5 427.71L67 433.46L68.8 433.46L70 425.21L71.2 436.46L78 435.46L81.3 435.46L82.5 428.96L83.7 435.46L84 435.46L85.3 425.21L86.6 435.46L90 435.46L91.25 429.46L92.5 435.46L93.7 435.46L95 428.96L96 433.96L99.75 430.96L101.5 434.46L103.5 430.21L106 429.46L107.5 434.96L114.7 434.96L116 428.46L117.25 432.71L121 434.46L127 435.46L132 435.46L133.5 433.46L135 435.96L148.3 435.96L149.75 434.46L151.2 435.96L168 435.96L172 435.46L174 428.46L176 430.21L179.75 430.96L182.25 432.71L185.5 431.46L188.5 433.96L192 433.46L194 432.46L196.5 428.46L199 430.21L201 432.46L203.25 429.46L205 428.46L207 433.46L210.75 434.46L215.75 433.46L219.5 433.96L224.5 432.71L227 435.21L232 435.96L266 435.96L270 434.46L274.5 429.46L277 432.46L278.25 432.71L280.75 427.71L284.5 431.96L288 432.96L291.75 430.21L294.25 433.96L297.5 429.46L300.5 434.46L304.25 433.46L306.75 431.46L309.25 429.46L311.75 432.71L314.25 431.46L318 431.46L320.5 435.21L330 435.21L333 434.96L334.25 430.96L335.5 434.96L337 435.21L340.5 432.71L344.25 433.46L348 434.46L353 433.46L356 435.96L360 436.46L360 436.46Z" fill="#74878d"/><path d="M60 436.46L61 433.46L62 425.21L63 424.46L63.75 416.46L64.7 426.46L65.5 427.71L67 433.46L68.8 433.46L70 425.21L71.2 436.46L78 435.46L81.3 435.46L82.5 428.96L83.7 435.46L84 435.46L85.3 425.21L86.6 435.46L90 435.46L91.25 429.46L92.5 435.46L93.7 435.46L95 428.96L96 433.96L99.75 430.96L101.5 434.46L103.5 430.21L106 429.46L107.5 434.96L114.7 434.96L116 428.46L117.25 432.71L121 434.46L127 435.46L132 435.46L133.5 433.46L135 435.96L148.3 435.96L149.75 434.46L151.2 435.96L168 435.96L172 435.46L174 428.46L176 430.21L179.75 430.96L182.25 432.71L185.5 431.46L188.5 433.96L192 433.46L194 432.46L196.5 428.46L199 430.21L201 432.46L203.25 429.46L205 428.46L207 433.46L210.75 434.46L215.75 433.46L219.5 433.96L224.5 432.71L227 435.21L232 435.96L266 435.96L270 434.46L274.5 429.46L277 432.46L278.25 432.71L280.75 427.71L284.5 431.96L288 432.96L291.75 430.21L294.25 433.96L297.5 429.46L300.5 434.46L304.25 433.46L306.75 431.46L309.25 429.46L311.75 432.71L314.25 431.46L318 431.46L320.5 435.21L330 435.21L333 434.96L334.25 430.96L335.5 434.96L337 435.21L340.5 432.71L344.25 433.46L348 434.46L353 433.46L356 435.96L360 436.46" fill="none" stroke="#2e383c" stroke-width="0.55" stroke-linejoin="round"/><path d="M58.8 460.48L58.8 460.48L60 444.88L61.2 458.48L62.5 459.48L63.75 454.48L65 459.48L66.2 459.48L67.5 440.23L68.5 452.48L69.5 451.48L71 458.48L73.75 456.98L75.5 459.98L80 459.48L81.25 454.48L82.5 459.48L85 459.48L86.25 455.23L87.5 459.48L88.2 459.48L89.5 451.98L91 457.48L93.75 453.98L95 459.48L96 459.48L98 453.98L99 458.98L100.5 451.98L102 455.48L103.5 450.23L105.5 451.48L107.25 458.48L109.8 458.48L111 452.73L112.75 458.48L114.75 453.98L116.5 452.73L118.5 456.48L122.25 457.73L124 459.98L134 459.98L136 458.48L138 459.98L144 459.98L146 457.73L148 459.98L164 459.98L166 456.98L170 459.48L173.5 455.98L176 457.98L178.5 458.48L182.25 456.98L184 455.48L185.5 451.98L188.5 453.98L192 459.48L196.5 457.73L201 457.98L202.8 456.48L204 452.73L205.2 457.48L206 457.73L210 458.48L213.25 457.73L218 458.98L224.5 458.98L235.75 458.98L243.25 458.48L250.75 458.48L258.25 458.98L264.5 458.98L269.5 458.98L274.5 458.48L277 456.48L278.25 452.73L279.5 456.48L281.5 457.73L285.75 455.23L288 458.48L291.75 456.98L294.25 458.48L298 454.48L300.5 458.98L303 453.48L305 450.48L306.75 447.73L309.25 445.23L311.75 448.98L314.25 447.73L316 450.23L318 456.48L320.5 459.48L332.8 459.48L334.25 458.48L335.7 459.48L343 458.98L346 459.98L350 460.48L350 460.48Z" fill="#74878d"/><path d="M58.8 460.48L60 444.88L61.2 458.48L62.5 459.48L63.75 454.48L65 459.48L66.2 459.48L67.5 440.23L68.5 452.48L69.5 451.48L71 458.48L73.75 456.98L75.5 459.98L80 459.48L81.25 454.48L82.5 459.48L85 459.48L86.25 455.23L87.5 459.48L88.2 459.48L89.5 451.98L91 457.48L93.75 453.98L95 459.48L96 459.48L98 453.98L99 458.98L100.5 451.98L102 455.48L103.5 450.23L105.5 451.48L107.25 458.48L109.8 458.48L111 452.73L112.75 458.48L114.75 453.98L116.5 452.73L118.5 456.48L122.25 457.73L124 459.98L134 459.98L136 458.48L138 459.98L144 459.98L146 457.73L148 459.98L164 459.98L166 456.98L170 459.48L173.5 455.98L176 457.98L178.5 458.48L182.25 456.98L184 455.48L185.5 451.98L188.5 453.98L192 459.48L196.5 457.73L201 457.98L202.8 456.48L204 452.73L205.2 457.48L206 457.73L210 458.48L213.25 457.73L218 458.98L224.5 458.98L235.75 458.98L243.25 458.48L250.75 458.48L258.25 458.98L264.5 458.98L269.5 458.98L274.5 458.48L277 456.48L278.25 452.73L279.5 456.48L281.5 457.73L285.75 455.23L288 458.48L291.75 456.98L294.25 458.48L298 454.48L300.5 458.98L303 453.48L305 450.48L306.75 447.73L309.25 445.23L311.75 448.98L314.25 447.73L316 450.23L318 456.48L320.5 459.48L332.8 459.48L334.25 458.48L335.7 459.48L343 458.98L346 459.98L350 460.48" fill="none" stroke="#2e383c" stroke-width="0.55" stroke-linejoin="round"/><path d="M54 484.5L54 484.5L55.5 478.75L56.5 480.5L58.4 470.1L59.4 478.5L60 477.75L62 480.5L63.75 479L65 480.5L66.25 475L68.1 478.5L69.7 465.5L70.7 478.5L71.25 479L73 480.5L76.25 477.5L78 482.5L80 483.5L82 483.5L84.5 475.5L86 479.5L87.5 482L90 478.75L93.75 480L96 480.25L99 481L102.25 479.5L105 481L107.25 480.25L109.5 481.5L111.5 481.5L114.75 481.5L118 481L121 479L123.5 482.5L127 484L150.8 484L152.25 482.5L153.7 484L170 484L172 483.5L175 480.5L178.5 477.75L182.25 478.5L186 479.5L189.75 477.75L192 481.5L194.5 479L196.5 476.5L198.25 473.5L200.75 479L202.5 479.5L204.5 478.5L206.5 481L208.25 482.75L210 477.75L212.5 474L215 472.5L217 470.25L219.5 474L221.5 473.5L223.25 471.5L225.75 476.5L228.25 481.5L232 480.25L235.75 479.5L239.5 482.75L247 483.5L267 483.5L277 482.75L280.75 478.5L283.25 476L286 476.5L288 477L290 480.5L292 482.5L298 482.75L301.75 480.25L304.25 477.75L306 476.5L308 474.75L310.5 472.25L312.5 472L314.25 472L316 473.75L318 480L319.25 483.5L325 484L338 483.5L344 483.5L350 484L374 484L374 484.5Z" fill="#74878d"/><path d="M54 484.5L55.5 478.75L56.5 480.5L58.4 470.1L59.4 478.5L60 477.75L62 480.5L63.75 479L65 480.5L66.25 475L68.1 478.5L69.7 465.5L70.7 478.5L71.25 479L73 480.5L76.25 477.5L78 482.5L80 483.5L82 483.5L84.5 475.5L86 479.5L87.5 482L90 478.75L93.75 480L96 480.25L99 481L102.25 479.5L105 481L107.25 480.25L109.5 481.5L111.5 481.5L114.75 481.5L118 481L121 479L123.5 482.5L127 484L150.8 484L152.25 482.5L153.7 484L170 484L172 483.5L175 480.5L178.5 477.75L182.25 478.5L186 479.5L189.75 477.75L192 481.5L194.5 479L196.5 476.5L198.25 473.5L200.75 479L202.5 479.5L204.5 478.5L206.5 481L208.25 482.75L210 477.75L212.5 474L215 472.5L217 470.25L219.5 474L221.5 473.5L223.25 471.5L225.75 476.5L228.25 481.5L232 480.25L235.75 479.5L239.5 482.75L247 483.5L267 483.5L277 482.75L280.75 478.5L283.25 476L286 476.5L288 477L290 480.5L292 482.5L298 482.75L301.75 480.25L304.25 477.75L306 476.5L308 474.75L310.5 472.25L312.5 472L314.25 472L316 473.75L318 480L319.25 483.5L325 484L338 483.5L344 483.5L350 484L374 484" fill="none" stroke="#2e383c" stroke-width="0.55" stroke-linejoin="round"/><path d="M55.8 508.52L55.8 508.52L57 497.52L58.5 505.52L60 489.52L61 503.52L62 505.02L64 503.52L65.5 498.77L67 503.52L68.75 497.52L70 502.52L71.3 502.52L72.5 493.77L73.7 505.02L75 505.02L77 507.52L82 507.52L83.75 503.77L85.5 507.52L87.3 507.52L88.75 505.02L90.5 506.52L92.5 501.27L94.5 505.52L96 505.02L98.5 503.77L99.8 505.52L101 498.77L102.2 505.02L103.5 505.02L104.5 502.52L105.5 496.27L106.5 502.52L107.25 502.52L109.75 505.02L112.25 502.52L114.75 505.02L117.25 502.52L119.5 503.52L121 500.02L123.5 503.77L127.25 506.27L132.25 506.27L136 507.52L153.5 507.52L160 507.02L163.5 506.27L167 507.02L171 505.02L174.75 503.77L177 505.02L179.75 502.52L183.5 505.02L186 504.52L188.5 498.77L190.5 502.52L192 503.77L193.5 505.52L195.75 502.52L197 499.52L198.25 496.27L199.5 500.52L200.75 502.52L203.25 505.02L206 504.52L209 503.77L212.75 503.77L215.75 503.52L219.5 505.52L224.5 505.02L228.25 507.52L236 507.52L241 505.52L243.25 503.77L245 505.52L247 506.27L251 504.52L254.5 502.02L258.25 503.77L261 506.52L264.5 508.02L268.2 507.52L271.4 504.22L273.5 502.12L275.3 500.62L277.1 501.62L278.7 502.72L280.2 503.52L281.3 503.22L282.3 504.82L283.9 505.32L285.4 504.22L287 503.72L288.6 503.22L289.9 501.82L291.2 503.22L292.8 502.72L294.8 500.62L295.9 502.72L297.4 505.32L298.5 506.32L300 507.32L301.5 504.52L303.3 500.32L305 497.82L306.7 496.22L308.3 494.22L309.7 494.52L310.8 489.82L312 496.22L313 497.82L314.2 494.52L315 499.52L315.8 498.72L317 504.52L318 502.82L319.7 505.32L320.8 507.02L324.2 506.22L328.3 504.52L333 502.82L335.8 505.32L338.3 507.52L342 508.02L358 507.52L363 506.27L368 507.02L374 507.52L374 508.52Z" fill="#74878d"/><path d="M55.8 508.52L57 497.52L58.5 505.52L60 489.52L61 503.52L62 505.02L64 503.52L65.5 498.77L67 503.52L68.75 497.52L70 502.52L71.3 502.52L72.5 493.77L73.7 505.02L75 505.02L77 507.52L82 507.52L83.75 503.77L85.5 507.52L87.3 507.52L88.75 505.02L90.5 506.52L92.5 501.27L94.5 505.52L96 505.02L98.5 503.77L99.8 505.52L101 498.77L102.2 505.02L103.5 505.02L104.5 502.52L105.5 496.27L106.5 502.52L107.25 502.52L109.75 505.02L112.25 502.52L114.75 505.02L117.25 502.52L119.5 503.52L121 500.02L123.5 503.77L127.25 506.27L132.25 506.27L136 507.52L153.5 507.52L160 507.02L163.5 506.27L167 507.02L171 505.02L174.75 503.77L177 505.02L179.75 502.52L183.5 505.02L186 504.52L188.5 498.77L190.5 502.52L192 503.77L193.5 505.52L195.75 502.52L197 499.52L198.25 496.27L199.5 500.52L200.75 502.52L203.25 505.02L206 504.52L209 503.77L212.75 503.77L215.75 503.52L219.5 505.52L224.5 505.02L228.25 507.52L236 507.52L241 505.52L243.25 503.77L245 505.52L247 506.27L251 504.52L254.5 502.02L258.25 503.77L261 506.52L264.5 508.02L268.2 507.52L271.4 504.22L273.5 502.12L275.3 500.62L277.1 501.62L278.7 502.72L280.2 503.52L281.3 503.22L282.3 504.82L283.9 505.32L285.4 504.22L287 503.72L288.6 503.22L289.9 501.82L291.2 503.22L292.8 502.72L294.8 500.62L295.9 502.72L297.4 505.32L298.5 506.32L300 507.32L301.5 504.52L303.3 500.32L305 497.82L306.7 496.22L308.3 494.22L309.7 494.52L310.8 489.82L312 496.22L313 497.82L314.2 494.52L315 499.52L315.8 498.72L317 504.52L318 502.82L319.7 505.32L320.8 507.02L324.2 506.22L328.3 504.52L333 502.82L335.8 505.32L338.3 507.52L342 508.02L358 507.52L363 506.27L368 507.02L374 507.52" fill="none" stroke="#2e383c" stroke-width="0.55" stroke-linejoin="round"/><path d="M54.3 532.54L54.3 532.54L55.5 518.79L56.5 527.54L57.5 530.04L59 530.04L60 529.54L61 526.54L62 520.54L63 518.54L63.75 516.29L64.5 520.54L65.5 515.04L66.3 519.54L67 517.54L68 520.54L68.75 518.04L69.7 523.54L70.5 526.29L71.8 526.54L73 522.54L74.2 530.54L75 531.29L80 531.29L82 530.54L83.3 524.54L84.5 519.54L86 523.54L87.5 525.04L89 527.54L90.5 528.79L93.75 528.04L96 530.04L99 530.54L101.5 529.54L103.5 528.04L106 530.04L108 531.04L110.3 529.54L111.5 519.54L112.7 529.54L113.5 530.04L115.5 526.29L117.5 531.04L121 529.54L123 532.04L168 532.24L171 532.04L173.5 530.54L176 528.79L178 527.54L179.75 526.29L181.5 527.04L183.5 526.29L186.5 528.04L188.5 524.54L189.75 520.04L191 525.54L192 528.79L194.5 524.54L195.75 523.04L197 527.54L198.25 530.04L199.5 527.54L202 523.79L203.2 527.54L204.5 530.04L208.25 531.29L210.75 528.79L213.25 529.54L217 528.79L220.75 529.54L223.2 527.54L224.5 523.04L225.8 529.54L227 531.29L234.5 531.29L240.75 530.04L245.75 529.54L257 529.54L260.75 527.54L264.5 529.54L269.5 527.54L274.5 525.54L278.25 524.54L280.75 521.29L284.5 523.04L288 522.04L291.75 524.54L295.5 528.04L299.25 528.79L301.75 527.54L304.25 525.04L306.75 520.54L309.25 517.54L311.75 516.29L314.25 518.79L316.75 525.04L319.25 528.79L323 530.54L328 531.29L331 530.54L334.25 528.79L338 530.04L341.75 532.04L346 532.54L372.5 532.54L374.25 528.79L375 532.54L375 532.54Z" fill="#74878d"/><path d="M54.3 532.54L55.5 518.79L56.5 527.54L57.5 530.04L59 530.04L60 529.54L61 526.54L62 520.54L63 518.54L63.75 516.29L64.5 520.54L65.5 515.04L66.3 519.54L67 517.54L68 520.54L68.75 518.04L69.7 523.54L70.5 526.29L71.8 526.54L73 522.54L74.2 530.54L75 531.29L80 531.29L82 530.54L83.3 524.54L84.5 519.54L86 523.54L87.5 525.04L89 527.54L90.5 528.79L93.75 528.04L96 530.04L99 530.54L101.5 529.54L103.5 528.04L106 530.04L108 531.04L110.3 529.54L111.5 519.54L112.7 529.54L113.5 530.04L115.5 526.29L117.5 531.04L121 529.54L123 532.04L168 532.24L171 532.04L173.5 530.54L176 528.79L178 527.54L179.75 526.29L181.5 527.04L183.5 526.29L186.5 528.04L188.5 524.54L189.75 520.04L191 525.54L192 528.79L194.5 524.54L195.75 523.04L197 527.54L198.25 530.04L199.5 527.54L202 523.79L203.2 527.54L204.5 530.04L208.25 531.29L210.75 528.79L213.25 529.54L217 528.79L220.75 529.54L223.2 527.54L224.5 523.04L225.8 529.54L227 531.29L234.5 531.29L240.75 530.04L245.75 529.54L257 529.54L260.75 527.54L264.5 529.54L269.5 527.54L274.5 525.54L278.25 524.54L280.75 521.29L284.5 523.04L288 522.04L291.75 524.54L295.5 528.04L299.25 528.79L301.75 527.54L304.25 525.04L306.75 520.54L309.25 517.54L311.75 516.29L314.25 518.79L316.75 525.04L319.25 528.79L323 530.54L328 531.29L331 530.54L334.25 528.79L338 530.04L341.75 532.04L346 532.54M372.5 532.54L374.25 528.79L375 532.54" fill="none" stroke="#2e383c" stroke-width="0.55" stroke-linejoin="round"/></g><g fill="none" stroke="#d01e30" stroke-width="0.9" stroke-opacity="0.55"><rect x="42.45" y="24.12" width="18.5" height="4"/><rect x="60.95" y="19.62" width="18.5" height="8.5"/><rect x="79.45" y="24.37" width="18.5" height="3.75"/><rect x="97.95" y="24.12" width="18.5" height="4"/><rect x="153.45" y="26.62" width="18.5" height="1.5"/><rect x="171.95" y="20.62" width="18.5" height="7.5"/><rect x="190.45" y="24.12" width="18.5" height="4"/><rect x="208.95" y="20.62" width="18.5" height="7.5"/><rect x="227.45" y="25.62" width="18.5" height="2.5"/><rect x="245.95" y="25.62" width="18.5" height="2.5"/><rect x="264.45" y="26.62" width="18.5" height="1.5"/><rect x="282.95" y="10.12" width="18.5" height="18"/><rect x="301.45" y="4.7" width="18.5" height="23.42"/><rect x="319.95" y="23.12" width="18.5" height="5"/><rect x="338.45" y="26.62" width="18.5" height="1.5"/><rect x="60.95" y="50.64" width="18.5" height="1.5"/><rect x="97.95" y="48.14" width="18.5" height="4"/><rect x="116.45" y="48.14" width="18.5" height="4"/><rect x="134.95" y="50.64" width="18.5" height="1.5"/><rect x="153.45" y="48.14" width="18.5" height="4"/><rect x="171.95" y="48.14" width="18.5" height="4"/><rect x="190.45" y="36.14" width="18.5" height="16"/><rect x="208.95" y="48.14" width="18.5" height="4"/><rect x="227.45" y="45.64" width="18.5" height="6.5"/><rect x="245.95" y="48.14" width="18.5" height="4"/><rect x="264.45" y="39.89" width="18.5" height="12.25"/><rect x="282.95" y="33.14" width="18.5" height="19"/><rect x="301.45" y="28.72" width="18.5" height="23.42"/><rect x="319.95" y="47.39" width="18.5" height="4.75"/><rect x="338.45" y="47.39" width="18.5" height="4.75"/><rect x="356.95" y="49.89" width="18.5" height="2.25"/><rect x="42.45" y="75.56" width="18.5" height="0.6"/><rect x="79.45" y="72.86" width="18.5" height="3.3"/><rect x="97.95" y="74.16" width="18.5" height="2"/><rect x="153.45" y="73.16" width="18.5" height="3"/><rect x="171.95" y="66.16" width="18.5" height="10"/><rect x="190.45" y="69.91" width="18.5" height="6.25"/><rect x="208.95" y="68.16" width="18.5" height="8"/><rect x="227.45" y="74.16" width="18.5" height="2"/><rect x="245.95" y="71.66" width="18.5" height="4.5"/><rect x="264.45" y="69.16" width="18.5" height="7"/><rect x="282.95" y="68.16" width="18.5" height="8"/><rect x="301.45" y="52.74" width="18.5" height="23.42"/><rect x="319.95" y="74.91" width="18.5" height="1.25"/><rect x="338.45" y="74.91" width="18.5" height="1.25"/><rect x="42.45" y="97.43" width="18.5" height="2.75"/><rect x="60.95" y="96.68" width="18.5" height="3.5"/><rect x="79.45" y="95.43" width="18.5" height="4.75"/><rect x="97.95" y="98.18" width="18.5" height="2"/><rect x="153.45" y="98.18" width="18.5" height="2"/><rect x="171.95" y="93.18" width="18.5" height="7"/><rect x="190.45" y="91.68" width="18.5" height="8.5"/><rect x="208.95" y="94.93" width="18.5" height="5.25"/><rect x="227.45" y="99.43" width="18.5" height="0.75"/><rect x="245.95" y="98.18" width="18.5" height="2"/><rect x="264.45" y="96.93" width="18.5" height="3.25"/><rect x="282.95" y="93.88" width="18.5" height="6.3"/><rect x="301.45" y="76.76" width="18.5" height="23.42"/><rect x="319.95" y="95.68" width="18.5" height="4.5"/><rect x="338.45" y="98.18" width="18.5" height="2"/><rect x="42.45" y="123.4" width="18.5" height="0.8"/><rect x="60.95" y="121.2" width="18.5" height="3"/><rect x="79.45" y="121.2" width="18.5" height="3"/><rect x="97.95" y="121.7" width="18.5" height="2.5"/><rect x="116.45" y="119.45" width="18.5" height="4.75"/><rect x="134.95" y="122.95" width="18.5" height="1.25"/><rect x="171.95" y="117.45" width="18.5" height="6.75"/><rect x="190.45" y="121.2" width="18.5" height="3"/><rect x="208.95" y="119.95" width="18.5" height="4.25"/><rect x="227.45" y="122.45" width="18.5" height="1.75"/><rect x="245.95" y="121.2" width="18.5" height="3"/><rect x="264.45" y="114.95" width="18.5" height="9.25"/><rect x="282.95" y="113.2" width="18.5" height="11"/><rect x="301.45" y="100.78" width="18.5" height="23.42"/><rect x="319.95" y="119.2" width="18.5" height="5"/><rect x="338.45" y="121.2" width="18.5" height="3"/><rect x="79.45" y="143.22" width="18.5" height="5"/><rect x="134.95" y="146.22" width="18.5" height="2"/><rect x="153.45" y="143.22" width="18.5" height="5"/><rect x="171.95" y="141.22" width="18.5" height="7"/><rect x="190.45" y="141.22" width="18.5" height="7"/><rect x="208.95" y="144.22" width="18.5" height="4"/><rect x="227.45" y="147.72" width="18.5" height="0.5"/><rect x="245.95" y="145.72" width="18.5" height="2.5"/><rect x="264.45" y="142.47" width="18.5" height="5.75"/><rect x="282.95" y="135.92" width="18.5" height="12.3"/><rect x="301.45" y="124.8" width="18.5" height="23.42"/><rect x="319.95" y="143.72" width="18.5" height="4.5"/><rect x="338.45" y="146.22" width="18.5" height="2"/><rect x="42.45" y="171.44" width="18.5" height="0.8"/><rect x="97.95" y="170.74" width="18.5" height="1.5"/><rect x="134.95" y="170.74" width="18.5" height="1.5"/><rect x="153.45" y="169.24" width="18.5" height="3"/><rect x="171.95" y="163.24" width="18.5" height="9"/><rect x="190.45" y="163.24" width="18.5" height="9"/><rect x="208.95" y="160.74" width="18.5" height="11.5"/><rect x="227.45" y="169.24" width="18.5" height="3"/><rect x="245.95" y="166.24" width="18.5" height="6"/><rect x="264.45" y="160.74" width="18.5" height="11.5"/><rect x="282.95" y="159.24" width="18.5" height="13"/><rect x="301.45" y="148.82" width="18.5" height="23.42"/><rect x="319.95" y="168.74" width="18.5" height="3.5"/><rect x="338.45" y="170.74" width="18.5" height="1.5"/><rect x="42.45" y="194.86" width="18.5" height="1.4"/><rect x="60.95" y="194.06" width="18.5" height="2.2"/><rect x="79.45" y="194.06" width="18.5" height="2.2"/><rect x="97.95" y="193.76" width="18.5" height="2.5"/><rect x="116.45" y="194.26" width="18.5" height="2"/><rect x="171.95" y="188.26" width="18.5" height="8"/><rect x="190.45" y="191.76" width="18.5" height="4.5"/><rect x="208.95" y="193.26" width="18.5" height="3"/><rect x="227.45" y="195.01" width="18.5" height="1.25"/><rect x="245.95" y="195.01" width="18.5" height="1.25"/><rect x="264.45" y="191.26" width="18.5" height="5"/><rect x="282.95" y="189.26" width="18.5" height="7"/><rect x="301.45" y="172.84" width="18.5" height="23.42"/><rect x="319.95" y="191.76" width="18.5" height="4.5"/><rect x="338.45" y="195.01" width="18.5" height="1.25"/><rect x="42.45" y="214.98" width="18.5" height="5.3"/><rect x="60.95" y="210.48" width="18.5" height="9.8"/><rect x="79.45" y="209.48" width="18.5" height="10.8"/><rect x="97.95" y="208.78" width="18.5" height="11.5"/><rect x="116.45" y="216.98" width="18.5" height="3.3"/><rect x="134.95" y="216.98" width="18.5" height="3.3"/><rect x="153.45" y="214.98" width="18.5" height="5.3"/><rect x="171.95" y="218.78" width="18.5" height="1.5"/><rect x="190.45" y="206.28" width="18.5" height="14"/><rect x="208.95" y="215.03" width="18.5" height="5.25"/><rect x="227.45" y="220.03" width="18.5" height="0.25"/><rect x="245.95" y="213.28" width="18.5" height="7"/><rect x="264.45" y="206.28" width="18.5" height="14"/><rect x="282.95" y="201.78" width="18.5" height="18.5"/><rect x="301.45" y="196.86" width="18.5" height="23.42"/><rect x="319.95" y="218.28" width="18.5" height="2"/><rect x="338.45" y="213.28" width="18.5" height="7"/><rect x="42.45" y="243.7" width="18.5" height="0.6"/><rect x="60.95" y="242.9" width="18.5" height="1.4"/><rect x="79.45" y="243.7" width="18.5" height="0.6"/><rect x="97.95" y="241.8" width="18.5" height="2.5"/><rect x="116.45" y="241.8" width="18.5" height="2.5"/><rect x="134.95" y="243.3" width="18.5" height="1"/><rect x="153.45" y="241.8" width="18.5" height="2.5"/><rect x="171.95" y="235.8" width="18.5" height="8.5"/><rect x="190.45" y="235.8" width="18.5" height="8.5"/><rect x="208.95" y="239.3" width="18.5" height="5"/><rect x="227.45" y="242.55" width="18.5" height="1.75"/><rect x="245.95" y="241.8" width="18.5" height="2.5"/><rect x="264.45" y="239.3" width="18.5" height="5"/><rect x="282.95" y="233.8" width="18.5" height="10.5"/><rect x="301.45" y="220.88" width="18.5" height="23.42"/><rect x="319.95" y="240.05" width="18.5" height="4.25"/><rect x="338.45" y="243.3" width="18.5" height="1"/><rect x="356.95" y="243.3" width="18.5" height="1"/><rect x="60.95" y="260.82" width="18.5" height="7.5"/><rect x="79.45" y="256.82" width="18.5" height="11.5"/><rect x="97.95" y="261.82" width="18.5" height="6.5"/><rect x="116.45" y="266.32" width="18.5" height="2"/><rect x="171.95" y="262.57" width="18.5" height="5.75"/><rect x="190.45" y="256.82" width="18.5" height="11.5"/><rect x="208.95" y="260.07" width="18.5" height="8.25"/><rect x="227.45" y="266.32" width="18.5" height="2"/><rect x="245.95" y="261.82" width="18.5" height="6.5"/><rect x="264.45" y="260.07" width="18.5" height="8.25"/><rect x="282.95" y="262.57" width="18.5" height="5.75"/><rect x="301.45" y="244.9" width="18.5" height="23.42"/><rect x="319.95" y="262.57" width="18.5" height="5.75"/><rect x="338.45" y="266.82" width="18.5" height="1.5"/><rect x="42.45" y="289.34" width="18.5" height="3"/><rect x="60.95" y="278.34" width="18.5" height="14"/><rect x="79.45" y="284.34" width="18.5" height="8"/><rect x="97.95" y="283.84" width="18.5" height="8.5"/><rect x="116.45" y="289.34" width="18.5" height="3"/><rect x="134.95" y="290.84" width="18.5" height="1.5"/><rect x="153.45" y="291.34" width="18.5" height="1"/><rect x="171.95" y="283.84" width="18.5" height="8.5"/><rect x="190.45" y="289.34" width="18.5" height="3"/><rect x="208.95" y="283.84" width="18.5" height="8.5"/><rect x="227.45" y="291.84" width="18.5" height="0.5"/><rect x="245.95" y="285.09" width="18.5" height="7.25"/><rect x="264.45" y="281.34" width="18.5" height="11"/><rect x="282.95" y="273.84" width="18.5" height="18.5"/><rect x="301.45" y="268.92" width="18.5" height="23.42"/><rect x="319.95" y="291.84" width="18.5" height="0.5"/><rect x="338.45" y="288.84" width="18.5" height="3.5"/><rect x="60.95" y="313.86" width="18.5" height="2.5"/><rect x="79.45" y="300.11" width="18.5" height="16.25"/><rect x="97.95" y="297.61" width="18.5" height="18.75"/><rect x="116.45" y="314.36" width="18.5" height="2"/><rect x="134.95" y="314.36" width="18.5" height="2"/><rect x="171.95" y="305.11" width="18.5" height="11.25"/><rect x="190.45" y="314.36" width="18.5" height="2"/><rect x="208.95" y="311.86" width="18.5" height="4.5"/><rect x="227.45" y="315.11" width="18.5" height="1.25"/><rect x="264.45" y="309.36" width="18.5" height="7"/><rect x="282.95" y="300.11" width="18.5" height="16.25"/><rect x="301.45" y="292.94" width="18.5" height="23.42"/><rect x="319.95" y="309.56" width="18.5" height="6.8"/><rect x="338.45" y="309.56" width="18.5" height="6.8"/><rect x="356.95" y="315.86" width="18.5" height="0.5"/><rect x="42.45" y="338.68" width="18.5" height="1.7"/><rect x="60.95" y="334.48" width="18.5" height="5.9"/><rect x="79.45" y="335.58" width="18.5" height="4.8"/><rect x="97.95" y="327.63" width="18.5" height="12.75"/><rect x="116.45" y="333.88" width="18.5" height="6.5"/><rect x="153.45" y="338.38" width="18.5" height="2"/><rect x="171.95" y="333.88" width="18.5" height="6.5"/><rect x="190.45" y="327.63" width="18.5" height="12.75"/><rect x="208.95" y="329.38" width="18.5" height="11"/><rect x="227.45" y="337.63" width="18.5" height="2.75"/><rect x="245.95" y="333.38" width="18.5" height="7"/><rect x="264.45" y="336.88" width="18.5" height="3.5"/><rect x="282.95" y="324.38" width="18.5" height="16"/><rect x="301.45" y="316.96" width="18.5" height="23.42"/><rect x="319.95" y="333.38" width="18.5" height="7"/><rect x="338.45" y="336.88" width="18.5" height="3.5"/><rect x="356.95" y="338.88" width="18.5" height="1.5"/><rect x="42.45" y="362.8" width="18.5" height="1.6"/><rect x="60.95" y="361" width="18.5" height="3.4"/><rect x="79.45" y="358.9" width="18.5" height="5.5"/><rect x="97.95" y="361.9" width="18.5" height="2.5"/><rect x="116.45" y="359.4" width="18.5" height="5"/><rect x="134.95" y="363.4" width="18.5" height="1"/><rect x="171.95" y="360.15" width="18.5" height="4.25"/><rect x="190.45" y="356.4" width="18.5" height="8"/><rect x="208.95" y="358.4" width="18.5" height="6"/><rect x="227.45" y="363.4" width="18.5" height="1"/><rect x="245.95" y="361.4" width="18.5" height="3"/><rect x="264.45" y="358.4" width="18.5" height="6"/><rect x="282.95" y="357.9" width="18.5" height="6.5"/><rect x="301.45" y="341.9" width="18.5" height="22.5"/><rect x="319.95" y="356.2" width="18.5" height="8.2"/><rect x="338.45" y="361.4" width="18.5" height="3"/><rect x="356.95" y="363.4" width="18.5" height="1"/><rect x="60.95" y="381.92" width="18.5" height="6.5"/><rect x="79.45" y="366.42" width="18.5" height="22"/><rect x="97.95" y="369.42" width="18.5" height="19"/><rect x="116.45" y="385.17" width="18.5" height="3.25"/><rect x="134.95" y="387.67" width="18.5" height="0.75"/><rect x="153.45" y="385.92" width="18.5" height="2.5"/><rect x="171.95" y="365.92" width="18.5" height="22.5"/><rect x="190.45" y="365.92" width="18.5" height="22.5"/><rect x="208.95" y="375.17" width="18.5" height="13.25"/><rect x="227.45" y="368.92" width="18.5" height="19.5"/><rect x="245.95" y="378.92" width="18.5" height="9.5"/><rect x="264.45" y="375.17" width="18.5" height="13.25"/><rect x="282.95" y="366.42" width="18.5" height="22"/><rect x="301.45" y="365" width="18.5" height="23.42"/><rect x="319.95" y="375.17" width="18.5" height="13.25"/><rect x="338.45" y="378.92" width="18.5" height="9.5"/><rect x="42.45" y="410.14" width="18.5" height="2.3"/><rect x="60.95" y="404.94" width="18.5" height="7.5"/><rect x="79.45" y="411.14" width="18.5" height="1.3"/><rect x="97.95" y="407.24" width="18.5" height="5.2"/><rect x="116.45" y="410.94" width="18.5" height="1.5"/><rect x="171.95" y="402.69" width="18.5" height="9.75"/><rect x="190.45" y="403.44" width="18.5" height="9"/><rect x="208.95" y="410.19" width="18.5" height="2.25"/><rect x="227.45" y="411.94" width="18.5" height="0.5"/><rect x="245.95" y="410.19" width="18.5" height="2.25"/><rect x="264.45" y="411.94" width="18.5" height="0.5"/><rect x="282.95" y="406.44" width="18.5" height="6"/><rect x="301.45" y="389.02" width="18.5" height="23.42"/><rect x="319.95" y="410.94" width="18.5" height="1.5"/><rect x="338.45" y="408.44" width="18.5" height="4"/><rect x="356.95" y="411.44" width="18.5" height="1"/><rect x="60.95" y="420.21" width="18.5" height="16.25"/><rect x="79.45" y="422.71" width="18.5" height="13.75"/><rect x="97.95" y="426.86" width="18.5" height="9.6"/><rect x="116.45" y="426.86" width="18.5" height="9.6"/><rect x="134.95" y="434.16" width="18.5" height="2.3"/><rect x="171.95" y="418.46" width="18.5" height="18"/><rect x="190.45" y="413.96" width="18.5" height="22.5"/><rect x="208.95" y="425.21" width="18.5" height="11.25"/><rect x="227.45" y="434.46" width="18.5" height="2"/><rect x="264.45" y="420.96" width="18.5" height="15.5"/><rect x="282.95" y="416.46" width="18.5" height="20"/><rect x="301.45" y="413.96" width="18.5" height="22.5"/><rect x="319.95" y="427.71" width="18.5" height="8.75"/><rect x="338.45" y="430.21" width="18.5" height="6.25"/><rect x="42.45" y="458.48" width="18.5" height="2"/><rect x="60.95" y="455.23" width="18.5" height="5.25"/><rect x="79.45" y="455.23" width="18.5" height="5.25"/><rect x="97.95" y="456.98" width="18.5" height="3.5"/><rect x="116.45" y="456.98" width="18.5" height="3.5"/><rect x="134.95" y="458.48" width="18.5" height="2"/><rect x="153.45" y="460.23" width="18.5" height="0.25"/><rect x="171.95" y="453.48" width="18.5" height="7"/><rect x="190.45" y="456.98" width="18.5" height="3.5"/><rect x="208.95" y="458.48" width="18.5" height="2"/><rect x="227.45" y="459.48" width="18.5" height="1"/><rect x="245.95" y="457.73" width="18.5" height="2.75"/><rect x="264.45" y="455.23" width="18.5" height="5.25"/><rect x="282.95" y="451.48" width="18.5" height="9"/><rect x="301.45" y="437.06" width="18.5" height="23.42"/><rect x="319.95" y="457.73" width="18.5" height="2.75"/><rect x="338.45" y="459.48" width="18.5" height="1"/><rect x="42.45" y="479.5" width="18.5" height="5"/><rect x="60.95" y="476" width="18.5" height="8.5"/><rect x="79.45" y="478.4" width="18.5" height="6.1"/><rect x="97.95" y="480.25" width="18.5" height="4.25"/><rect x="116.45" y="481" width="18.5" height="3.5"/><rect x="171.95" y="479.5" width="18.5" height="5"/><rect x="190.45" y="477.75" width="18.5" height="6.75"/><rect x="208.95" y="462.25" width="18.5" height="22.25"/><rect x="227.45" y="478.5" width="18.5" height="6"/><rect x="245.95" y="479.8" width="18.5" height="4.7"/><rect x="264.45" y="479.8" width="18.5" height="4.7"/><rect x="282.95" y="478.3" width="18.5" height="6.2"/><rect x="301.45" y="464.3" width="18.5" height="20.2"/><rect x="319.95" y="483.5" width="18.5" height="1"/><rect x="338.45" y="484" width="18.5" height="0.5"/><rect x="356.95" y="484" width="18.5" height="0.5"/><rect x="42.45" y="505.22" width="18.5" height="3.3"/><rect x="60.95" y="502.92" width="18.5" height="5.6"/><rect x="79.45" y="502.92" width="18.5" height="5.6"/><rect x="97.95" y="497.52" width="18.5" height="11"/><rect x="116.45" y="503.77" width="18.5" height="4.75"/><rect x="134.95" y="508.02" width="18.5" height="0.5"/><rect x="153.45" y="507.52" width="18.5" height="1"/><rect x="171.95" y="501.27" width="18.5" height="7.25"/><rect x="190.45" y="497.02" width="18.5" height="11.5"/><rect x="208.95" y="503.77" width="18.5" height="4.75"/><rect x="227.45" y="507.52" width="18.5" height="1"/><rect x="245.95" y="503.77" width="18.5" height="4.75"/><rect x="264.45" y="497.27" width="18.5" height="11.25"/><rect x="282.95" y="497.27" width="18.5" height="11.25"/><rect x="301.45" y="486.27" width="18.5" height="22.25"/><rect x="319.95" y="502.52" width="18.5" height="6"/><rect x="338.45" y="507.52" width="18.5" height="1"/><rect x="356.95" y="506.27" width="18.5" height="2.25"/><rect x="42.45" y="531.29" width="18.5" height="1.25"/><rect x="60.95" y="522.54" width="18.5" height="10"/><rect x="79.45" y="527.54" width="18.5" height="5"/><rect x="97.95" y="528.04" width="18.5" height="4.5"/><rect x="116.45" y="531.29" width="18.5" height="1.25"/><rect x="171.95" y="524.54" width="18.5" height="8"/><rect x="190.45" y="522.04" width="18.5" height="10.5"/><rect x="208.95" y="525.04" width="18.5" height="7.5"/><rect x="227.45" y="529.54" width="18.5" height="3"/><rect x="245.95" y="526.29" width="18.5" height="6.25"/><rect x="264.45" y="522.04" width="18.5" height="10.5"/><rect x="282.95" y="520.54" width="18.5" height="12"/><rect x="301.45" y="510.54" width="18.5" height="22"/><rect x="319.95" y="528.79" width="18.5" height="3.75"/><rect x="338.45" y="531.29" width="18.5" height="1.25"/><rect x="356.95" y="532.04" width="18.5" height="0.5"/></g><g stroke="#bdbdbd" stroke-width="0.85"><line x1="5.45" y1="28.12" x2="375.5" y2="28.12"/><line x1="5.45" y1="52.14" x2="375.5" y2="52.14"/><line x1="5.45" y1="76.16" x2="375.5" y2="76.16"/><line x1="5.45" y1="100.18" x2="375.5" y2="100.18"/><line x1="5.45" y1="124.2" x2="375.5" y2="124.2"/><line x1="5.45" y1="148.22" x2="375.5" y2="148.22"/><line x1="5.45" y1="172.24" x2="375.5" y2="172.24"/><line x1="5.45" y1="196.26" x2="375.5" y2="196.26"/><line x1="5.45" y1="220.28" x2="375.5" y2="220.28"/><line x1="5.45" y1="244.3" x2="375.5" y2="244.3"/><line x1="5.45" y1="268.32" x2="375.5" y2="268.32"/><line x1="5.45" y1="292.34" x2="375.5" y2="292.34"/><line x1="5.45" y1="316.36" x2="375.5" y2="316.36"/><line x1="5.45" y1="340.38" x2="375.5" y2="340.38"/><line x1="5.45" y1="364.4" x2="375.5" y2="364.4"/><line x1="5.45" y1="388.42" x2="375.5" y2="388.42"/><line x1="5.45" y1="412.44" x2="375.5" y2="412.44"/><line x1="5.45" y1="436.46" x2="375.5" y2="436.46"/><line x1="5.45" y1="460.48" x2="375.5" y2="460.48"/><line x1="5.45" y1="484.5" x2="375.5" y2="484.5"/><line x1="5.45" y1="508.52" x2="375.5" y2="508.52"/></g><rect x="5.45" y="4.1" width="370.05" height="528.44" fill="none" stroke="#bdbdbd" stroke-width="0.7"/><text class="l" transform="translate(9.3 11.5) scale(0.87 1)">Terne-1 (cu)</text><text class="l" transform="translate(9.3 18.4) scale(0.87 1)">1180-1190 m</text><text class="l" transform="translate(9.3 25.3) scale(0.87 1)">n=79/108</text><text class="r" x="125.9" y="16.5" text-anchor="middle">Medium</text><text class="s" transform="translate(371.9 24.6) scale(0.875 1)" text-anchor="end">SE Upper</text><text class="l" transform="translate(9.3 35.52) scale(0.87 1)">Terne-1 (cu)</text><text class="l" transform="translate(9.3 42.42) scale(0.87 1)">1270-1280 m</text><text class="l" transform="translate(9.3 49.32) scale(0.87 1)">n=103/105</text><text class="r" x="125.9" y="40.52" text-anchor="middle">Low</text><text class="s" transform="translate(371.9 42.42) scale(0.875 1)" text-anchor="end">SE Lower</text><text class="l" transform="translate(9.3 59.54) scale(0.87 1)">Hans-1 (cu)</text><text class="l" transform="translate(9.3 66.44) scale(0.87 1)">350-355 m</text><text class="l" transform="translate(9.3 73.34) scale(0.87 1)">n=79/114</text><text class="r" x="125.9" y="64.54" text-anchor="middle">Low</text><text class="s" transform="translate(371.9 72.04) scale(0.875 1)" text-anchor="end">SE Upper</text><text class="l" transform="translate(9.3 83.56) scale(0.87 1)">Hans-1 (cu)</text><text class="l" transform="translate(9.3 90.46) scale(0.87 1)">620-625 m</text><text class="l" transform="translate(9.3 97.36) scale(0.87 1)">n=98/105</text><text class="r" x="125.9" y="88.56" text-anchor="middle">Medium</text><text class="s" transform="translate(371.9 94.96) scale(0.875 1)" text-anchor="end">SE Lower</text><text class="l" transform="translate(9.3 107.58) scale(0.87 1)">Lavø-1</text><text class="l" transform="translate(9.3 114.48) scale(0.87 1)">2163.06 m</text><text class="l" transform="translate(9.3 121.38) scale(0.87 1)">n=101/114</text><text class="r" x="125.9" y="112.58" text-anchor="middle">Medium</text><text class="s" transform="translate(371.9 119.58) scale(0.875 1)" text-anchor="end">SE Upper</text><text class="l" transform="translate(9.3 131.6) scale(0.87 1)">Lavø-1</text><text class="l" transform="translate(9.3 138.5) scale(0.87 1)">2280.24 m</text><text class="l" transform="translate(9.3 145.4) scale(0.87 1)">n=44/58</text><text class="r" x="125.9" y="136.6" text-anchor="middle">Low</text><text class="s" transform="translate(371.9 144) scale(0.875 1)" text-anchor="end">SE Upper</text><text class="l" transform="translate(9.3 155.62) scale(0.87 1)">Karlebo-1 (cu)</text><text class="l" transform="translate(9.3 162.52) scale(0.87 1)">1997.5-2002.5 m</text><text class="l" transform="translate(9.3 169.42) scale(0.87 1)">n=121/126</text><text class="r" x="125.9" y="160.62" text-anchor="middle">Low</text><text class="s" transform="translate(371.9 168.42) scale(0.875 1)" text-anchor="end">SE Upper</text><text class="l" transform="translate(9.3 179.64) scale(0.87 1)">Karlebo-1 (cu)</text><text class="l" transform="translate(9.3 186.54) scale(0.87 1)">2215-2225 m</text><text class="l" transform="translate(9.3 193.44) scale(0.87 1)">n=113/121</text><text class="r" x="125.9" y="184.64" text-anchor="middle">Medium</text><text class="s" transform="translate(371.9 192.34) scale(0.875 1)" text-anchor="end">SE Upper</text><text class="l" transform="translate(9.3 203.66) scale(0.87 1)">Margretheholm-1 (cu)</text><text class="l" transform="translate(9.3 210.56) scale(0.87 1)">1860.0-1862.5 m</text><text class="l" transform="translate(9.3 217.46) scale(0.87 1)">n=85/115</text><text class="r" x="125.9" y="208.66" text-anchor="middle">High</text><text class="s" transform="translate(371.9 211.36) scale(0.875 1)" text-anchor="end">SE Upper</text><text class="l" transform="translate(9.3 227.68) scale(0.87 1)">Margretheholm-1 (cu)</text><text class="l" transform="translate(9.3 234.58) scale(0.87 1)">1960-1980 m</text><text class="l" transform="translate(9.3 241.48) scale(0.87 1)">n=110/123</text><text class="r" x="125.9" y="232.68" text-anchor="middle">Medium</text><text class="s" transform="translate(371.9 239.38) scale(0.875 1)" text-anchor="end">SE Upper</text><text class="l" transform="translate(9.3 251.7) scale(0.87 1)">Höllviken-1</text><text class="l" transform="translate(9.3 258.6) scale(0.87 1)">1386.80-1388.05 m</text><text class="l" transform="translate(9.3 265.5) scale(0.87 1)">n=67/117</text><text class="r" x="125.9" y="256.7" text-anchor="middle">High</text><text class="s" transform="translate(371.9 264) scale(0.875 1)" text-anchor="end">SE Upper</text><text class="l" transform="translate(9.3 275.72) scale(0.87 1)">Höllviken-1</text><text class="l" transform="translate(9.3 282.62) scale(0.87 1)">1410.04-1410.70 m</text><text class="l" transform="translate(9.3 289.52) scale(0.87 1)">n=89/120</text><text class="r" x="125.9" y="280.72" text-anchor="middle">High</text><text class="s" transform="translate(371.9 286.62) scale(0.875 1)" text-anchor="end">SE Lower</text><text class="l" transform="translate(9.3 299.74) scale(0.87 1)">Stenlille-4</text><text class="l" transform="translate(9.3 306.64) scale(0.87 1)">1515.05 m</text><text class="l" transform="translate(9.3 313.54) scale(0.87 1)">n=53/86</text><text class="r" x="125.9" y="304.74" text-anchor="middle">High</text><text class="s" transform="translate(371.9 307.54) scale(0.875 1)" text-anchor="end">SE Upper</text><text class="l" transform="translate(9.3 323.76) scale(0.87 1)">Stenlille-19</text><text class="l" transform="translate(9.3 330.66) scale(0.87 1)">1657.52 m</text><text class="l" transform="translate(9.3 337.56) scale(0.87 1)">n=79/93</text><text class="r" x="125.9" y="328.76" text-anchor="middle">High</text><text class="s" transform="translate(371.9 334.36) scale(0.875 1)" text-anchor="end">SE Lower</text><text class="l" transform="translate(9.3 347.78) scale(0.87 1)">Slagelse-1 (cu)</text><text class="l" transform="translate(9.3 354.68) scale(0.87 1)">1200-1210 m</text><text class="l" transform="translate(9.3 361.58) scale(0.87 1)">n=96/119</text><text class="r" x="125.9" y="352.78" text-anchor="middle">High</text><text class="s" transform="translate(371.9 357.98) scale(0.875 1)" text-anchor="end">SE Lower</text><text class="l" transform="translate(9.3 371.8) scale(0.87 1)">Ullerslev-1</text><text class="l" transform="translate(9.3 378.7) scale(0.87 1)">868.73 m</text><text class="l" transform="translate(9.3 385.6) scale(0.87 1)">n=70/87</text><text class="r" x="125.9" y="376.8" text-anchor="middle">High</text><text class="s" transform="translate(371.9 377) scale(0.875 1)" text-anchor="end">SE Upper</text><text class="l" transform="translate(9.3 395.82) scale(0.87 1)">Ullerslev-1</text><text class="l" transform="translate(9.3 402.72) scale(0.87 1)">928.52 m</text><text class="l" transform="translate(9.3 409.62) scale(0.87 1)">n=102/114</text><text class="r" x="125.9" y="400.82" text-anchor="middle">High</text><text class="s" transform="translate(371.9 405.92) scale(0.875 1)" text-anchor="end">SE Lower</text><text class="l" transform="translate(9.3 419.84) scale(0.87 1)">Rødby-1 (cu)</text><text class="l" transform="translate(9.3 426.74) scale(0.87 1)">623.0-626.1 m</text><text class="l" transform="translate(9.3 433.64) scale(0.87 1)">n=80/127</text><text class="r" x="125.9" y="424.84" text-anchor="middle">High</text><text class="s" transform="translate(371.9 427.54) scale(0.875 1)" text-anchor="end">SE Lower</text><text class="l" transform="translate(9.3 443.86) scale(0.87 1)">Rødby-2 (cu)</text><text class="l" transform="translate(9.3 450.76) scale(0.87 1)">666.0-667.5 m</text><text class="l" transform="translate(9.3 457.66) scale(0.87 1)">n=93/127</text><text class="r" x="125.9" y="448.86" text-anchor="middle">High</text><text class="s" transform="translate(371.9 456.96) scale(0.875 1)" text-anchor="end">SE Lower</text><text class="l" transform="translate(9.3 467.88) scale(0.87 1)">Sønderborg-1 (cu)</text><text class="l" transform="translate(9.3 474.78) scale(0.87 1)">1160-1170 m</text><text class="l" transform="translate(9.3 481.68) scale(0.87 1)">n=108/113</text><text class="r" x="125.9" y="472.88" text-anchor="middle">High</text><text class="s" transform="translate(371.9 480.98) scale(0.875 1)" text-anchor="end">SE Upper</text><text class="l" transform="translate(9.3 491.9) scale(0.87 1)">Sønderborg-1 (cu)</text><text class="l" transform="translate(9.3 498.8) scale(0.87 1)">1190-1200 m</text><text class="l" transform="translate(9.3 505.7) scale(0.87 1)">n=88/103</text><text class="r" x="125.9" y="496.9" text-anchor="middle">High</text><text class="s" transform="translate(371.9 503.6) scale(0.875 1)" text-anchor="end">SE Lower</text><text class="l" transform="translate(9.3 515.92) scale(0.87 1)">Sønderborg-1 (cu)</text><text class="l" transform="translate(9.3 522.82) scale(0.87 1)">1200-1210 m</text><text class="l" transform="translate(9.3 529.72) scale(0.87 1)">n=108/120</text><text class="r" x="125.9" y="520.92" text-anchor="middle">High</text><text class="s" transform="translate(371.9 529.52) scale(0.875 1)" text-anchor="end">SE Lower</text><text x="364.3" y="17.1" style="font-family:'Liberation Sans',sans-serif;font-size:11.0px;fill:#111;stroke:#111;stroke-width:0.35px;">B</text><g stroke="#bdbdbd" stroke-width="0.5"><line x1="23.95" y1="532.54" x2="23.95" y2="533.74"/><line x1="42.45" y1="532.54" x2="42.45" y2="533.74"/><line x1="60.95" y1="532.54" x2="60.95" y2="533.74"/><line x1="79.45" y1="532.54" x2="79.45" y2="533.74"/><line x1="97.95" y1="532.54" x2="97.95" y2="533.74"/><line x1="116.45" y1="532.54" x2="116.45" y2="533.74"/><line x1="134.95" y1="532.54" x2="134.95" y2="533.74"/><line x1="153.45" y1="532.54" x2="153.45" y2="533.74"/><line x1="171.95" y1="532.54" x2="171.95" y2="533.74"/><line x1="190.45" y1="532.54" x2="190.45" y2="533.74"/><line x1="208.95" y1="532.54" x2="208.95" y2="533.74"/><line x1="227.45" y1="532.54" x2="227.45" y2="533.74"/><line x1="245.95" y1="532.54" x2="245.95" y2="533.74"/><line x1="264.45" y1="532.54" x2="264.45" y2="533.74"/><line x1="282.95" y1="532.54" x2="282.95" y2="533.74"/><line x1="301.45" y1="532.54" x2="301.45" y2="533.74"/><line x1="319.95" y1="532.54" x2="319.95" y2="533.74"/><line x1="338.45" y1="532.54" x2="338.45" y2="533.74"/><line x1="356.95" y1="532.54" x2="356.95" y2="533.74"/></g><text class="t" x="5.45" y="538.3" text-anchor="middle">0</text><text class="t" x="42.45" y="538.3" text-anchor="middle">200</text><text class="t" x="79.45" y="538.3" text-anchor="middle">400</text><text class="t" x="116.45" y="538.3" text-anchor="middle">600</text><text class="t" x="153.45" y="538.3" text-anchor="middle">800</text><text class="t" x="190.45" y="538.3" text-anchor="middle">1000</text><text class="t" x="227.45" y="538.3" text-anchor="middle">1200</text><text class="t" x="264.45" y="538.3" text-anchor="middle">1400</text><text class="t" x="301.45" y="538.3" text-anchor="middle">1600</text><text class="t" x="338.45" y="538.3" text-anchor="middle">1800</text><text class="t" x="375.45" y="538.3" text-anchor="middle">2000</text><text x="190.4" y="544.6" text-anchor="middle" style="font-family:'Liberation Sans',sans-serif;font-size:5.5px;fill:#1a1a1a;stroke:#1a1a1a;stroke-width:0.1px;">Age (Ma)</text></svg></body></html>
